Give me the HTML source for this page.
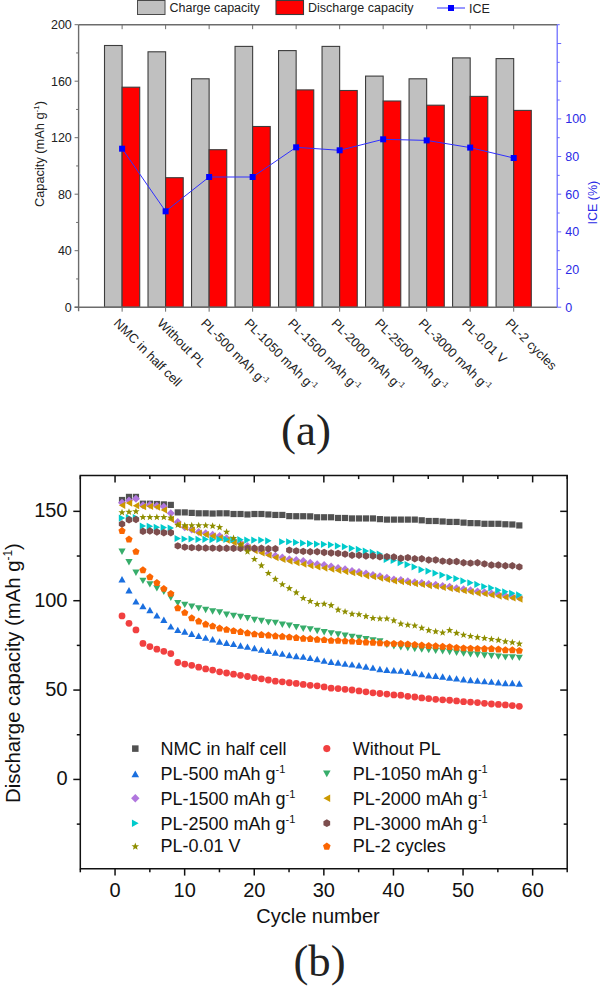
<!DOCTYPE html>
<html><head><meta charset="utf-8"><style>html,body{margin:0;padding:0;background:#fff;width:600px;height:986px;overflow:hidden}svg{display:block}</style></head>
<body><svg width="600" height="986" viewBox="0 0 600 986" font-family='"Liberation Sans", sans-serif'><rect x="104.51" y="45.50" width="17.60" height="261.70" fill="#c0c0c0" stroke="#3c3c3c" stroke-width="1.1"/>
<rect x="122.11" y="87.20" width="17.60" height="220.00" fill="#ff0000" stroke="#3c3c3c" stroke-width="1.1"/>
<rect x="148.02" y="51.80" width="17.60" height="255.40" fill="#c0c0c0" stroke="#3c3c3c" stroke-width="1.1"/>
<rect x="165.62" y="177.70" width="17.60" height="129.50" fill="#ff0000" stroke="#3c3c3c" stroke-width="1.1"/>
<rect x="191.53" y="78.80" width="17.60" height="228.40" fill="#c0c0c0" stroke="#3c3c3c" stroke-width="1.1"/>
<rect x="209.13" y="149.70" width="17.60" height="157.50" fill="#ff0000" stroke="#3c3c3c" stroke-width="1.1"/>
<rect x="235.04" y="46.40" width="17.60" height="260.80" fill="#c0c0c0" stroke="#3c3c3c" stroke-width="1.1"/>
<rect x="252.64" y="126.50" width="17.60" height="180.70" fill="#ff0000" stroke="#3c3c3c" stroke-width="1.1"/>
<rect x="278.55" y="50.60" width="17.60" height="256.60" fill="#c0c0c0" stroke="#3c3c3c" stroke-width="1.1"/>
<rect x="296.15" y="89.90" width="17.60" height="217.30" fill="#ff0000" stroke="#3c3c3c" stroke-width="1.1"/>
<rect x="322.05" y="46.40" width="17.60" height="260.80" fill="#c0c0c0" stroke="#3c3c3c" stroke-width="1.1"/>
<rect x="339.65" y="90.50" width="17.60" height="216.70" fill="#ff0000" stroke="#3c3c3c" stroke-width="1.1"/>
<rect x="365.56" y="76.10" width="17.60" height="231.10" fill="#c0c0c0" stroke="#3c3c3c" stroke-width="1.1"/>
<rect x="383.16" y="101.00" width="17.60" height="206.20" fill="#ff0000" stroke="#3c3c3c" stroke-width="1.1"/>
<rect x="409.07" y="78.80" width="17.60" height="228.40" fill="#c0c0c0" stroke="#3c3c3c" stroke-width="1.1"/>
<rect x="426.67" y="105.20" width="17.60" height="202.00" fill="#ff0000" stroke="#3c3c3c" stroke-width="1.1"/>
<rect x="452.58" y="57.90" width="17.60" height="249.30" fill="#c0c0c0" stroke="#3c3c3c" stroke-width="1.1"/>
<rect x="470.18" y="96.40" width="17.60" height="210.80" fill="#ff0000" stroke="#3c3c3c" stroke-width="1.1"/>
<rect x="496.09" y="58.60" width="17.60" height="248.60" fill="#c0c0c0" stroke="#3c3c3c" stroke-width="1.1"/>
<rect x="513.69" y="110.40" width="17.60" height="196.80" fill="#ff0000" stroke="#3c3c3c" stroke-width="1.1"/>
<path d="M78.6,24.7 H557.2 M78.6,24.7 V311.2 M74.6,307.2 H557.2" stroke="#6c6c6c" stroke-width="1.4" fill="none"/>
<line x1="74.6" y1="307.20" x2="78.6" y2="307.20" stroke="#6c6c6c" stroke-width="1"/>
<text x="71.8" y="311.70" font-size="12.5" text-anchor="end" fill="#222">0</text>
<line x1="76.1" y1="278.95" x2="78.6" y2="278.95" stroke="#6c6c6c" stroke-width="1"/>
<line x1="74.6" y1="250.70" x2="78.6" y2="250.70" stroke="#6c6c6c" stroke-width="1"/>
<text x="71.8" y="255.20" font-size="12.5" text-anchor="end" fill="#222">40</text>
<line x1="76.1" y1="222.45" x2="78.6" y2="222.45" stroke="#6c6c6c" stroke-width="1"/>
<line x1="74.6" y1="194.20" x2="78.6" y2="194.20" stroke="#6c6c6c" stroke-width="1"/>
<text x="71.8" y="198.70" font-size="12.5" text-anchor="end" fill="#222">80</text>
<line x1="76.1" y1="165.95" x2="78.6" y2="165.95" stroke="#6c6c6c" stroke-width="1"/>
<line x1="74.6" y1="137.70" x2="78.6" y2="137.70" stroke="#6c6c6c" stroke-width="1"/>
<text x="71.8" y="142.20" font-size="12.5" text-anchor="end" fill="#222">120</text>
<line x1="76.1" y1="109.45" x2="78.6" y2="109.45" stroke="#6c6c6c" stroke-width="1"/>
<line x1="74.6" y1="81.20" x2="78.6" y2="81.20" stroke="#6c6c6c" stroke-width="1"/>
<text x="71.8" y="85.70" font-size="12.5" text-anchor="end" fill="#222">160</text>
<line x1="76.1" y1="52.95" x2="78.6" y2="52.95" stroke="#6c6c6c" stroke-width="1"/>
<line x1="74.6" y1="24.70" x2="78.6" y2="24.70" stroke="#6c6c6c" stroke-width="1"/>
<text x="71.8" y="29.20" font-size="12.5" text-anchor="end" fill="#222">200</text>
<line x1="122.11" y1="24.7" x2="122.11" y2="29.2" stroke="#6c6c6c" stroke-width="1"/>
<line x1="122.11" y1="307.2" x2="122.11" y2="311.7" stroke="#6c6c6c" stroke-width="1"/>
<line x1="165.62" y1="24.7" x2="165.62" y2="29.2" stroke="#6c6c6c" stroke-width="1"/>
<line x1="165.62" y1="307.2" x2="165.62" y2="311.7" stroke="#6c6c6c" stroke-width="1"/>
<line x1="209.13" y1="24.7" x2="209.13" y2="29.2" stroke="#6c6c6c" stroke-width="1"/>
<line x1="209.13" y1="307.2" x2="209.13" y2="311.7" stroke="#6c6c6c" stroke-width="1"/>
<line x1="252.64" y1="24.7" x2="252.64" y2="29.2" stroke="#6c6c6c" stroke-width="1"/>
<line x1="252.64" y1="307.2" x2="252.64" y2="311.7" stroke="#6c6c6c" stroke-width="1"/>
<line x1="296.15" y1="24.7" x2="296.15" y2="29.2" stroke="#6c6c6c" stroke-width="1"/>
<line x1="296.15" y1="307.2" x2="296.15" y2="311.7" stroke="#6c6c6c" stroke-width="1"/>
<line x1="339.65" y1="24.7" x2="339.65" y2="29.2" stroke="#6c6c6c" stroke-width="1"/>
<line x1="339.65" y1="307.2" x2="339.65" y2="311.7" stroke="#6c6c6c" stroke-width="1"/>
<line x1="383.16" y1="24.7" x2="383.16" y2="29.2" stroke="#6c6c6c" stroke-width="1"/>
<line x1="383.16" y1="307.2" x2="383.16" y2="311.7" stroke="#6c6c6c" stroke-width="1"/>
<line x1="426.67" y1="24.7" x2="426.67" y2="29.2" stroke="#6c6c6c" stroke-width="1"/>
<line x1="426.67" y1="307.2" x2="426.67" y2="311.7" stroke="#6c6c6c" stroke-width="1"/>
<line x1="470.18" y1="24.7" x2="470.18" y2="29.2" stroke="#6c6c6c" stroke-width="1"/>
<line x1="470.18" y1="307.2" x2="470.18" y2="311.7" stroke="#6c6c6c" stroke-width="1"/>
<line x1="513.69" y1="24.7" x2="513.69" y2="29.2" stroke="#6c6c6c" stroke-width="1"/>
<line x1="513.69" y1="307.2" x2="513.69" y2="311.7" stroke="#6c6c6c" stroke-width="1"/>
<line x1="557.2" y1="24.7" x2="557.2" y2="307.2" stroke="#6464ff" stroke-width="1.2"/>
<line x1="557.2" y1="307.20" x2="561.2" y2="307.20" stroke="#6464ff" stroke-width="1"/>
<text x="565.2" y="311.70" font-size="12.5" fill="#2a2ae6">0</text>
<line x1="557.2" y1="288.37" x2="559.7" y2="288.37" stroke="#6464ff" stroke-width="1"/>
<line x1="557.2" y1="269.53" x2="561.2" y2="269.53" stroke="#6464ff" stroke-width="1"/>
<text x="565.2" y="274.03" font-size="12.5" fill="#2a2ae6">20</text>
<line x1="557.2" y1="250.70" x2="559.7" y2="250.70" stroke="#6464ff" stroke-width="1"/>
<line x1="557.2" y1="231.87" x2="561.2" y2="231.87" stroke="#6464ff" stroke-width="1"/>
<text x="565.2" y="236.37" font-size="12.5" fill="#2a2ae6">40</text>
<line x1="557.2" y1="213.03" x2="559.7" y2="213.03" stroke="#6464ff" stroke-width="1"/>
<line x1="557.2" y1="194.20" x2="561.2" y2="194.20" stroke="#6464ff" stroke-width="1"/>
<text x="565.2" y="198.70" font-size="12.5" fill="#2a2ae6">60</text>
<line x1="557.2" y1="175.37" x2="559.7" y2="175.37" stroke="#6464ff" stroke-width="1"/>
<line x1="557.2" y1="156.53" x2="561.2" y2="156.53" stroke="#6464ff" stroke-width="1"/>
<text x="565.2" y="161.03" font-size="12.5" fill="#2a2ae6">80</text>
<line x1="557.2" y1="137.70" x2="559.7" y2="137.70" stroke="#6464ff" stroke-width="1"/>
<line x1="557.2" y1="118.87" x2="561.2" y2="118.87" stroke="#6464ff" stroke-width="1"/>
<text x="565.2" y="123.37" font-size="12.5" fill="#2a2ae6">100</text>
<line x1="557.2" y1="100.03" x2="559.7" y2="100.03" stroke="#6464ff" stroke-width="1"/>
<line x1="557.2" y1="81.20" x2="561.2" y2="81.20" stroke="#6464ff" stroke-width="1"/>
<line x1="557.2" y1="62.37" x2="559.7" y2="62.37" stroke="#6464ff" stroke-width="1"/>
<line x1="557.2" y1="43.53" x2="561.2" y2="43.53" stroke="#6464ff" stroke-width="1"/>
<line x1="557.2" y1="24.70" x2="559.7" y2="24.70" stroke="#6464ff" stroke-width="1"/>
<polyline points="122.11,148.7 165.62,211.3 209.13,177 252.64,177 296.15,147.3 339.65,150.3 383.16,139.3 426.67,140.4 470.18,147.6 513.69,158" fill="none" stroke="#3030ff" stroke-width="1"/>
<rect x="119.11" y="145.7" width="6" height="6" fill="#0000ff"/>
<rect x="162.62" y="208.3" width="6" height="6" fill="#0000ff"/>
<rect x="206.13" y="174" width="6" height="6" fill="#0000ff"/>
<rect x="249.64" y="174" width="6" height="6" fill="#0000ff"/>
<rect x="293.15" y="144.3" width="6" height="6" fill="#0000ff"/>
<rect x="336.65" y="147.3" width="6" height="6" fill="#0000ff"/>
<rect x="380.16" y="136.3" width="6" height="6" fill="#0000ff"/>
<rect x="423.67" y="137.4" width="6" height="6" fill="#0000ff"/>
<rect x="467.18" y="144.6" width="6" height="6" fill="#0000ff"/>
<rect x="510.69" y="155" width="6" height="6" fill="#0000ff"/>
<rect x="137.5" y="0.5" width="27.5" height="14" fill="#c0c0c0" stroke="#4a4a4a" stroke-width="1"/>
<text x="169.5" y="12" font-size="12.5" fill="#222">Charge capacity</text>
<rect x="276" y="0.5" width="27.5" height="14" fill="#ff0000" stroke="#3c3c3c" stroke-width="1.1"/>
<text x="308" y="12" font-size="12.5" fill="#222">Discharge capacity</text>
<line x1="437" y1="8" x2="465" y2="8" stroke="#3030ff" stroke-width="1"/>
<rect x="448" y="5" width="6" height="6" fill="#0000ff"/>
<text x="469" y="12.5" font-size="12.5" fill="#222">ICE</text>
<text transform="translate(44.2,154) rotate(-90)" font-size="12.8" text-anchor="middle" fill="#222">Capacity (mAh g<tspan font-size="8" dy="-5">-1</tspan><tspan dy="5">)</tspan></text>
<text transform="translate(597,202.7) rotate(-90)" font-size="12.5" text-anchor="middle" fill="#2a2ae6">ICE (%)</text>
<text transform="translate(113.11,324) rotate(45)" font-size="12.8" fill="#222">NMC in half cell</text>
<text transform="translate(156.62,324) rotate(45)" font-size="12.8" fill="#222">Without PL</text>
<text transform="translate(200.13,324) rotate(45)" font-size="12.8" fill="#222">PL-500 mAh g<tspan font-size="8" dy="-5">-1</tspan></text>
<text transform="translate(243.64,324) rotate(45)" font-size="12.8" fill="#222">PL-1050 mAh g<tspan font-size="8" dy="-5">-1</tspan></text>
<text transform="translate(287.15,324) rotate(45)" font-size="12.8" fill="#222">PL-1500 mAh g<tspan font-size="8" dy="-5">-1</tspan></text>
<text transform="translate(330.65,324) rotate(45)" font-size="12.8" fill="#222">PL-2000 mAh g<tspan font-size="8" dy="-5">-1</tspan></text>
<text transform="translate(374.16,324) rotate(45)" font-size="12.8" fill="#222">PL-2500 mAh g<tspan font-size="8" dy="-5">-1</tspan></text>
<text transform="translate(417.67,324) rotate(45)" font-size="12.8" fill="#222">PL-3000 mAh g<tspan font-size="8" dy="-5">-1</tspan></text>
<text transform="translate(461.18,324) rotate(45)" font-size="12.8" fill="#222">PL-0.01 V</text>
<text transform="translate(504.69,324) rotate(45)" font-size="12.8" fill="#222">PL-2 cycles</text>
<text x="306" y="444.7" font-size="45" font-family='"Liberation Serif", serif' text-anchor="middle" fill="#222">(a)</text>
<path d="M80.3,475.6 H567.2 V868.8 H80.3 Z" stroke="#111" stroke-width="1.5" fill="none"/>
<line x1="80.30" y1="868.8" x2="80.30" y2="872.3" stroke="#111" stroke-width="1.5"/>
<line x1="80.30" y1="475.6" x2="80.30" y2="479.1" stroke="#111" stroke-width="1.5"/>
<line x1="115.05" y1="868.8" x2="115.05" y2="875.5999999999999" stroke="#111" stroke-width="1.5"/>
<line x1="115.05" y1="475.6" x2="115.05" y2="482.40000000000003" stroke="#111" stroke-width="1.5"/>
<text x="115.05" y="897.3" font-size="20" text-anchor="middle" fill="#111">0</text>
<line x1="149.85" y1="868.8" x2="149.85" y2="872.3" stroke="#111" stroke-width="1.5"/>
<line x1="149.85" y1="475.6" x2="149.85" y2="479.1" stroke="#111" stroke-width="1.5"/>
<line x1="184.65" y1="868.8" x2="184.65" y2="875.5999999999999" stroke="#111" stroke-width="1.5"/>
<line x1="184.65" y1="475.6" x2="184.65" y2="482.40000000000003" stroke="#111" stroke-width="1.5"/>
<text x="184.65" y="897.3" font-size="20" text-anchor="middle" fill="#111">10</text>
<line x1="219.45" y1="868.8" x2="219.45" y2="872.3" stroke="#111" stroke-width="1.5"/>
<line x1="219.45" y1="475.6" x2="219.45" y2="479.1" stroke="#111" stroke-width="1.5"/>
<line x1="254.25" y1="868.8" x2="254.25" y2="875.5999999999999" stroke="#111" stroke-width="1.5"/>
<line x1="254.25" y1="475.6" x2="254.25" y2="482.40000000000003" stroke="#111" stroke-width="1.5"/>
<text x="254.25" y="897.3" font-size="20" text-anchor="middle" fill="#111">20</text>
<line x1="289.05" y1="868.8" x2="289.05" y2="872.3" stroke="#111" stroke-width="1.5"/>
<line x1="289.05" y1="475.6" x2="289.05" y2="479.1" stroke="#111" stroke-width="1.5"/>
<line x1="323.85" y1="868.8" x2="323.85" y2="875.5999999999999" stroke="#111" stroke-width="1.5"/>
<line x1="323.85" y1="475.6" x2="323.85" y2="482.40000000000003" stroke="#111" stroke-width="1.5"/>
<text x="323.85" y="897.3" font-size="20" text-anchor="middle" fill="#111">30</text>
<line x1="358.65" y1="868.8" x2="358.65" y2="872.3" stroke="#111" stroke-width="1.5"/>
<line x1="358.65" y1="475.6" x2="358.65" y2="479.1" stroke="#111" stroke-width="1.5"/>
<line x1="393.45" y1="868.8" x2="393.45" y2="875.5999999999999" stroke="#111" stroke-width="1.5"/>
<line x1="393.45" y1="475.6" x2="393.45" y2="482.40000000000003" stroke="#111" stroke-width="1.5"/>
<text x="393.45" y="897.3" font-size="20" text-anchor="middle" fill="#111">40</text>
<line x1="428.25" y1="868.8" x2="428.25" y2="872.3" stroke="#111" stroke-width="1.5"/>
<line x1="428.25" y1="475.6" x2="428.25" y2="479.1" stroke="#111" stroke-width="1.5"/>
<line x1="463.05" y1="868.8" x2="463.05" y2="875.5999999999999" stroke="#111" stroke-width="1.5"/>
<line x1="463.05" y1="475.6" x2="463.05" y2="482.40000000000003" stroke="#111" stroke-width="1.5"/>
<text x="463.05" y="897.3" font-size="20" text-anchor="middle" fill="#111">50</text>
<line x1="497.85" y1="868.8" x2="497.85" y2="872.3" stroke="#111" stroke-width="1.5"/>
<line x1="497.85" y1="475.6" x2="497.85" y2="479.1" stroke="#111" stroke-width="1.5"/>
<line x1="532.65" y1="868.8" x2="532.65" y2="875.5999999999999" stroke="#111" stroke-width="1.5"/>
<line x1="532.65" y1="475.6" x2="532.65" y2="482.40000000000003" stroke="#111" stroke-width="1.5"/>
<text x="532.65" y="897.3" font-size="20" text-anchor="middle" fill="#111">60</text>
<line x1="567.20" y1="868.8" x2="567.20" y2="872.3" stroke="#111" stroke-width="1.5"/>
<line x1="567.20" y1="475.6" x2="567.20" y2="479.1" stroke="#111" stroke-width="1.5"/>
<line x1="76.8" y1="824.12" x2="80.3" y2="824.12" stroke="#111" stroke-width="1.5"/>
<line x1="567.2" y1="824.12" x2="563.7" y2="824.12" stroke="#111" stroke-width="1.5"/>
<line x1="73.3" y1="779.44" x2="80.3" y2="779.44" stroke="#111" stroke-width="1.5"/>
<line x1="567.2" y1="779.44" x2="560.2" y2="779.44" stroke="#111" stroke-width="1.5"/>
<text x="67.5" y="785.34" font-size="20" text-anchor="end" fill="#111">0</text>
<line x1="76.8" y1="734.75" x2="80.3" y2="734.75" stroke="#111" stroke-width="1.5"/>
<line x1="567.2" y1="734.75" x2="563.7" y2="734.75" stroke="#111" stroke-width="1.5"/>
<line x1="73.3" y1="690.07" x2="80.3" y2="690.07" stroke="#111" stroke-width="1.5"/>
<line x1="567.2" y1="690.07" x2="560.2" y2="690.07" stroke="#111" stroke-width="1.5"/>
<text x="67.5" y="695.97" font-size="20" text-anchor="end" fill="#111">50</text>
<line x1="76.8" y1="645.39" x2="80.3" y2="645.39" stroke="#111" stroke-width="1.5"/>
<line x1="567.2" y1="645.39" x2="563.7" y2="645.39" stroke="#111" stroke-width="1.5"/>
<line x1="73.3" y1="600.71" x2="80.3" y2="600.71" stroke="#111" stroke-width="1.5"/>
<line x1="567.2" y1="600.71" x2="560.2" y2="600.71" stroke="#111" stroke-width="1.5"/>
<text x="67.5" y="606.61" font-size="20" text-anchor="end" fill="#111">100</text>
<line x1="76.8" y1="556.03" x2="80.3" y2="556.03" stroke="#111" stroke-width="1.5"/>
<line x1="567.2" y1="556.03" x2="563.7" y2="556.03" stroke="#111" stroke-width="1.5"/>
<line x1="73.3" y1="511.35" x2="80.3" y2="511.35" stroke="#111" stroke-width="1.5"/>
<line x1="567.2" y1="511.35" x2="560.2" y2="511.35" stroke="#111" stroke-width="1.5"/>
<text x="67.5" y="517.25" font-size="20" text-anchor="end" fill="#111">150</text>
<text x="318" y="923.3" font-size="20" text-anchor="middle" fill="#111">Cycle number</text>
<text transform="translate(20.0,673) rotate(-90)" font-size="20.3" text-anchor="middle" fill="#111">Discharge capacity (mAh g<tspan font-size="12" dy="-8">-1</tspan><tspan dy="8">)</tspan></text>
<text x="319.5" y="976.3" font-size="44.7" font-family='"Liberation Serif", serif' text-anchor="middle" fill="#222">(b)</text>
<rect x="118.92" y="496.90" width="6.20" height="6.20" fill="#515151"/>
<rect x="125.89" y="493.80" width="6.20" height="6.20" fill="#515151"/>
<rect x="132.86" y="493.80" width="6.20" height="6.20" fill="#515151"/>
<rect x="139.83" y="500.60" width="6.20" height="6.20" fill="#515151"/>
<rect x="146.80" y="500.60" width="6.20" height="6.20" fill="#515151"/>
<rect x="153.77" y="500.90" width="6.20" height="6.20" fill="#515151"/>
<rect x="160.74" y="501.30" width="6.20" height="6.20" fill="#515151"/>
<rect x="167.71" y="501.80" width="6.20" height="6.20" fill="#515151"/>
<rect x="174.68" y="509.30" width="6.20" height="6.20" fill="#515151"/>
<rect x="181.65" y="509.30" width="6.20" height="6.20" fill="#515151"/>
<rect x="188.62" y="509.80" width="6.20" height="6.20" fill="#515151"/>
<rect x="195.59" y="510.20" width="6.20" height="6.20" fill="#515151"/>
<rect x="202.56" y="510.21" width="6.20" height="6.20" fill="#515151"/>
<rect x="209.53" y="510.46" width="6.20" height="6.20" fill="#515151"/>
<rect x="216.50" y="510.21" width="6.20" height="6.20" fill="#515151"/>
<rect x="223.47" y="510.21" width="6.20" height="6.20" fill="#515151"/>
<rect x="230.44" y="510.91" width="6.20" height="6.20" fill="#515151"/>
<rect x="237.41" y="510.91" width="6.20" height="6.20" fill="#515151"/>
<rect x="244.38" y="511.38" width="6.20" height="6.20" fill="#515151"/>
<rect x="251.35" y="510.91" width="6.20" height="6.20" fill="#515151"/>
<rect x="258.32" y="510.91" width="6.20" height="6.20" fill="#515151"/>
<rect x="265.29" y="511.38" width="6.20" height="6.20" fill="#515151"/>
<rect x="272.26" y="511.84" width="6.20" height="6.20" fill="#515151"/>
<rect x="279.23" y="511.84" width="6.20" height="6.20" fill="#515151"/>
<rect x="286.20" y="513.01" width="6.20" height="6.20" fill="#515151"/>
<rect x="293.17" y="513.12" width="6.20" height="6.20" fill="#515151"/>
<rect x="300.14" y="513.12" width="6.20" height="6.20" fill="#515151"/>
<rect x="307.11" y="513.24" width="6.20" height="6.20" fill="#515151"/>
<rect x="314.08" y="514.17" width="6.20" height="6.20" fill="#515151"/>
<rect x="321.05" y="514.17" width="6.20" height="6.20" fill="#515151"/>
<rect x="328.02" y="514.17" width="6.20" height="6.20" fill="#515151"/>
<rect x="334.99" y="514.87" width="6.20" height="6.20" fill="#515151"/>
<rect x="341.96" y="514.87" width="6.20" height="6.20" fill="#515151"/>
<rect x="348.93" y="515.34" width="6.20" height="6.20" fill="#515151"/>
<rect x="355.90" y="515.34" width="6.20" height="6.20" fill="#515151"/>
<rect x="362.87" y="515.34" width="6.20" height="6.20" fill="#515151"/>
<rect x="369.84" y="515.34" width="6.20" height="6.20" fill="#515151"/>
<rect x="376.81" y="516.04" width="6.20" height="6.20" fill="#515151"/>
<rect x="383.78" y="516.50" width="6.20" height="6.20" fill="#515151"/>
<rect x="390.75" y="516.50" width="6.20" height="6.20" fill="#515151"/>
<rect x="397.72" y="516.50" width="6.20" height="6.20" fill="#515151"/>
<rect x="404.69" y="516.50" width="6.20" height="6.20" fill="#515151"/>
<rect x="411.66" y="516.50" width="6.20" height="6.20" fill="#515151"/>
<rect x="418.63" y="517.20" width="6.20" height="6.20" fill="#515151"/>
<rect x="425.60" y="517.90" width="6.20" height="6.20" fill="#515151"/>
<rect x="432.57" y="517.90" width="6.20" height="6.20" fill="#515151"/>
<rect x="439.54" y="518.37" width="6.20" height="6.20" fill="#515151"/>
<rect x="446.51" y="518.83" width="6.20" height="6.20" fill="#515151"/>
<rect x="453.48" y="518.83" width="6.20" height="6.20" fill="#515151"/>
<rect x="460.45" y="519.53" width="6.20" height="6.20" fill="#515151"/>
<rect x="467.42" y="520.00" width="6.20" height="6.20" fill="#515151"/>
<rect x="474.39" y="520.12" width="6.20" height="6.20" fill="#515151"/>
<rect x="481.36" y="520.70" width="6.20" height="6.20" fill="#515151"/>
<rect x="488.33" y="520.70" width="6.20" height="6.20" fill="#515151"/>
<rect x="495.30" y="520.70" width="6.20" height="6.20" fill="#515151"/>
<rect x="502.27" y="521.17" width="6.20" height="6.20" fill="#515151"/>
<rect x="509.24" y="521.40" width="6.20" height="6.20" fill="#515151"/>
<rect x="516.21" y="522.33" width="6.20" height="6.20" fill="#515151"/>
<circle cx="122.02" cy="615.90" r="3.40" fill="#f14040"/>
<circle cx="128.99" cy="623.30" r="3.40" fill="#f14040"/>
<circle cx="135.96" cy="629.90" r="3.40" fill="#f14040"/>
<circle cx="142.93" cy="643.40" r="3.40" fill="#f14040"/>
<circle cx="149.90" cy="646.60" r="3.40" fill="#f14040"/>
<circle cx="156.87" cy="649.20" r="3.40" fill="#f14040"/>
<circle cx="163.84" cy="651.30" r="3.40" fill="#f14040"/>
<circle cx="170.81" cy="653.60" r="3.40" fill="#f14040"/>
<circle cx="177.78" cy="662.50" r="3.40" fill="#f14040"/>
<circle cx="184.75" cy="664.10" r="3.40" fill="#f14040"/>
<circle cx="191.72" cy="665.30" r="3.40" fill="#f14040"/>
<circle cx="198.69" cy="667.20" r="3.40" fill="#f14040"/>
<circle cx="205.66" cy="668.91" r="3.40" fill="#f14040"/>
<circle cx="212.63" cy="670.08" r="3.40" fill="#f14040"/>
<circle cx="219.60" cy="671.82" r="3.40" fill="#f14040"/>
<circle cx="226.57" cy="672.98" r="3.40" fill="#f14040"/>
<circle cx="233.54" cy="674.15" r="3.40" fill="#f14040"/>
<circle cx="240.51" cy="675.31" r="3.40" fill="#f14040"/>
<circle cx="247.48" cy="676.48" r="3.40" fill="#f14040"/>
<circle cx="254.45" cy="677.65" r="3.40" fill="#f14040"/>
<circle cx="261.42" cy="678.81" r="3.40" fill="#f14040"/>
<circle cx="268.39" cy="679.98" r="3.40" fill="#f14040"/>
<circle cx="275.36" cy="681.14" r="3.40" fill="#f14040"/>
<circle cx="282.33" cy="681.84" r="3.40" fill="#f14040"/>
<circle cx="289.30" cy="682.77" r="3.40" fill="#f14040"/>
<circle cx="296.27" cy="683.47" r="3.40" fill="#f14040"/>
<circle cx="303.24" cy="684.41" r="3.40" fill="#f14040"/>
<circle cx="310.21" cy="685.34" r="3.40" fill="#f14040"/>
<circle cx="317.18" cy="685.80" r="3.40" fill="#f14040"/>
<circle cx="324.15" cy="686.97" r="3.40" fill="#f14040"/>
<circle cx="331.12" cy="688.14" r="3.40" fill="#f14040"/>
<circle cx="338.09" cy="688.60" r="3.40" fill="#f14040"/>
<circle cx="345.06" cy="689.30" r="3.40" fill="#f14040"/>
<circle cx="352.03" cy="690.00" r="3.40" fill="#f14040"/>
<circle cx="359.00" cy="690.93" r="3.40" fill="#f14040"/>
<circle cx="365.97" cy="691.86" r="3.40" fill="#f14040"/>
<circle cx="372.94" cy="692.80" r="3.40" fill="#f14040"/>
<circle cx="379.91" cy="693.50" r="3.40" fill="#f14040"/>
<circle cx="386.88" cy="694.08" r="3.40" fill="#f14040"/>
<circle cx="393.85" cy="694.90" r="3.40" fill="#f14040"/>
<circle cx="400.82" cy="695.13" r="3.40" fill="#f14040"/>
<circle cx="407.79" cy="696.29" r="3.40" fill="#f14040"/>
<circle cx="414.76" cy="696.99" r="3.40" fill="#f14040"/>
<circle cx="421.73" cy="697.93" r="3.40" fill="#f14040"/>
<circle cx="428.70" cy="698.62" r="3.40" fill="#f14040"/>
<circle cx="435.67" cy="699.32" r="3.40" fill="#f14040"/>
<circle cx="442.64" cy="699.79" r="3.40" fill="#f14040"/>
<circle cx="449.61" cy="700.26" r="3.40" fill="#f14040"/>
<circle cx="456.58" cy="700.96" r="3.40" fill="#f14040"/>
<circle cx="463.55" cy="701.66" r="3.40" fill="#f14040"/>
<circle cx="470.52" cy="702.12" r="3.40" fill="#f14040"/>
<circle cx="477.49" cy="702.59" r="3.40" fill="#f14040"/>
<circle cx="484.46" cy="703.29" r="3.40" fill="#f14040"/>
<circle cx="491.43" cy="703.99" r="3.40" fill="#f14040"/>
<circle cx="498.40" cy="704.45" r="3.40" fill="#f14040"/>
<circle cx="505.37" cy="704.92" r="3.40" fill="#f14040"/>
<circle cx="512.34" cy="705.62" r="3.40" fill="#f14040"/>
<circle cx="519.31" cy="706.32" r="3.40" fill="#f14040"/>
<path d="M122.02,576.10 L125.62,582.50 L118.42,582.50 Z" fill="#1a6fdf"/>
<path d="M128.99,587.00 L132.59,593.40 L125.39,593.40 Z" fill="#1a6fdf"/>
<path d="M135.96,598.20 L139.56,604.60 L132.36,604.60 Z" fill="#1a6fdf"/>
<path d="M142.93,602.90 L146.53,609.30 L139.33,609.30 Z" fill="#1a6fdf"/>
<path d="M149.90,606.80 L153.50,613.20 L146.30,613.20 Z" fill="#1a6fdf"/>
<path d="M156.87,612.20 L160.47,618.60 L153.27,618.60 Z" fill="#1a6fdf"/>
<path d="M163.84,616.60 L167.44,623.00 L160.24,623.00 Z" fill="#1a6fdf"/>
<path d="M170.81,623.20 L174.41,629.60 L167.21,629.60 Z" fill="#1a6fdf"/>
<path d="M177.78,626.70 L181.38,633.10 L174.18,633.10 Z" fill="#1a6fdf"/>
<path d="M184.75,628.30 L188.35,634.70 L181.15,634.70 Z" fill="#1a6fdf"/>
<path d="M191.72,630.60 L195.32,637.00 L188.12,637.00 Z" fill="#1a6fdf"/>
<path d="M198.69,632.50 L202.29,638.90 L195.09,638.90 Z" fill="#1a6fdf"/>
<path d="M205.66,634.46 L209.26,640.86 L202.06,640.86 Z" fill="#1a6fdf"/>
<path d="M212.63,635.99 L216.23,642.39 L209.03,642.39 Z" fill="#1a6fdf"/>
<path d="M219.60,638.32 L223.20,644.72 L216.00,644.72 Z" fill="#1a6fdf"/>
<path d="M226.57,639.48 L230.17,645.88 L222.97,645.88 Z" fill="#1a6fdf"/>
<path d="M233.54,640.65 L237.14,647.05 L229.94,647.05 Z" fill="#1a6fdf"/>
<path d="M240.51,642.28 L244.11,648.68 L236.91,648.68 Z" fill="#1a6fdf"/>
<path d="M247.48,643.44 L251.08,649.84 L243.88,649.84 Z" fill="#1a6fdf"/>
<path d="M254.45,644.84 L258.05,651.24 L250.85,651.24 Z" fill="#1a6fdf"/>
<path d="M261.42,646.47 L265.02,652.87 L257.82,652.87 Z" fill="#1a6fdf"/>
<path d="M268.39,647.64 L271.99,654.04 L264.79,654.04 Z" fill="#1a6fdf"/>
<path d="M275.36,649.27 L278.96,655.67 L271.76,655.67 Z" fill="#1a6fdf"/>
<path d="M282.33,650.44 L285.93,656.84 L278.73,656.84 Z" fill="#1a6fdf"/>
<path d="M289.30,651.83 L292.90,658.23 L285.70,658.23 Z" fill="#1a6fdf"/>
<path d="M296.27,652.77 L299.87,659.17 L292.67,659.17 Z" fill="#1a6fdf"/>
<path d="M303.24,653.47 L306.84,659.87 L299.64,659.87 Z" fill="#1a6fdf"/>
<path d="M310.21,654.63 L313.81,661.03 L306.61,661.03 Z" fill="#1a6fdf"/>
<path d="M317.18,655.80 L320.78,662.20 L313.58,662.20 Z" fill="#1a6fdf"/>
<path d="M324.15,657.43 L327.75,663.83 L320.55,663.83 Z" fill="#1a6fdf"/>
<path d="M331.12,658.59 L334.72,664.99 L327.52,664.99 Z" fill="#1a6fdf"/>
<path d="M338.09,659.29 L341.69,665.69 L334.49,665.69 Z" fill="#1a6fdf"/>
<path d="M345.06,660.46 L348.66,666.86 L341.46,666.86 Z" fill="#1a6fdf"/>
<path d="M352.03,661.16 L355.63,667.56 L348.43,667.56 Z" fill="#1a6fdf"/>
<path d="M359.00,662.09 L362.60,668.49 L355.40,668.49 Z" fill="#1a6fdf"/>
<path d="M365.97,663.26 L369.57,669.66 L362.37,669.66 Z" fill="#1a6fdf"/>
<path d="M372.94,664.42 L376.54,670.82 L369.34,670.82 Z" fill="#1a6fdf"/>
<path d="M379.91,665.82 L383.51,672.22 L376.31,672.22 Z" fill="#1a6fdf"/>
<path d="M386.88,666.52 L390.48,672.92 L383.28,672.92 Z" fill="#1a6fdf"/>
<path d="M393.85,667.10 L397.45,673.50 L390.25,673.50 Z" fill="#1a6fdf"/>
<path d="M400.82,667.45 L404.42,673.85 L397.22,673.85 Z" fill="#1a6fdf"/>
<path d="M407.79,668.62 L411.39,675.02 L404.19,675.02 Z" fill="#1a6fdf"/>
<path d="M414.76,669.78 L418.36,676.18 L411.16,676.18 Z" fill="#1a6fdf"/>
<path d="M421.73,670.95 L425.33,677.35 L418.13,677.35 Z" fill="#1a6fdf"/>
<path d="M428.70,672.11 L432.30,678.51 L425.10,678.51 Z" fill="#1a6fdf"/>
<path d="M435.67,672.58 L439.27,678.98 L432.07,678.98 Z" fill="#1a6fdf"/>
<path d="M442.64,673.28 L446.24,679.68 L439.04,679.68 Z" fill="#1a6fdf"/>
<path d="M449.61,674.45 L453.21,680.85 L446.01,680.85 Z" fill="#1a6fdf"/>
<path d="M456.58,675.14 L460.18,681.54 L452.98,681.54 Z" fill="#1a6fdf"/>
<path d="M463.55,676.08 L467.15,682.48 L459.95,682.48 Z" fill="#1a6fdf"/>
<path d="M470.52,676.78 L474.12,683.18 L466.92,683.18 Z" fill="#1a6fdf"/>
<path d="M477.49,677.36 L481.09,683.76 L473.89,683.76 Z" fill="#1a6fdf"/>
<path d="M484.46,677.94 L488.06,684.34 L480.86,684.34 Z" fill="#1a6fdf"/>
<path d="M491.43,678.41 L495.03,684.81 L487.83,684.81 Z" fill="#1a6fdf"/>
<path d="M498.40,679.11 L502.00,685.51 L494.80,685.51 Z" fill="#1a6fdf"/>
<path d="M505.37,679.81 L508.97,686.21 L501.77,686.21 Z" fill="#1a6fdf"/>
<path d="M512.34,679.81 L515.94,686.21 L508.74,686.21 Z" fill="#1a6fdf"/>
<path d="M519.31,680.27 L522.91,686.67 L515.71,686.67 Z" fill="#1a6fdf"/>
<path d="M122.02,555.00 L125.62,548.60 L118.42,548.60 Z" fill="#37ad6b"/>
<path d="M128.99,565.50 L132.59,559.10 L125.39,559.10 Z" fill="#37ad6b"/>
<path d="M135.96,576.00 L139.56,569.60 L132.36,569.60 Z" fill="#37ad6b"/>
<path d="M142.93,584.10 L146.53,577.70 L139.33,577.70 Z" fill="#37ad6b"/>
<path d="M149.90,587.60 L153.50,581.20 L146.30,581.20 Z" fill="#37ad6b"/>
<path d="M156.87,591.60 L160.47,585.20 L153.27,585.20 Z" fill="#37ad6b"/>
<path d="M163.84,595.10 L167.44,588.70 L160.24,588.70 Z" fill="#37ad6b"/>
<path d="M170.81,600.90 L174.41,594.50 L167.21,594.50 Z" fill="#37ad6b"/>
<path d="M177.78,606.30 L181.38,599.90 L174.18,599.90 Z" fill="#37ad6b"/>
<path d="M184.75,608.10 L188.35,601.70 L181.15,601.70 Z" fill="#37ad6b"/>
<path d="M191.72,609.80 L195.32,603.40 L188.12,603.40 Z" fill="#37ad6b"/>
<path d="M198.69,611.60 L202.29,605.20 L195.09,605.20 Z" fill="#37ad6b"/>
<path d="M205.66,613.22 L209.26,606.82 L202.06,606.82 Z" fill="#37ad6b"/>
<path d="M212.63,614.66 L216.23,608.26 L209.03,608.26 Z" fill="#37ad6b"/>
<path d="M219.60,615.58 L223.20,609.18 L216.00,609.18 Z" fill="#37ad6b"/>
<path d="M226.57,617.91 L230.17,611.51 L222.97,611.51 Z" fill="#37ad6b"/>
<path d="M233.54,619.07 L237.14,612.67 L229.94,612.67 Z" fill="#37ad6b"/>
<path d="M240.51,620.24 L244.11,613.84 L236.91,613.84 Z" fill="#37ad6b"/>
<path d="M247.48,621.41 L251.08,615.01 L243.88,615.01 Z" fill="#37ad6b"/>
<path d="M254.45,623.27 L258.05,616.87 L250.85,616.87 Z" fill="#37ad6b"/>
<path d="M261.42,624.20 L265.02,617.80 L257.82,617.80 Z" fill="#37ad6b"/>
<path d="M268.39,625.60 L271.99,619.20 L264.79,619.20 Z" fill="#37ad6b"/>
<path d="M275.36,626.07 L278.96,619.67 L271.76,619.67 Z" fill="#37ad6b"/>
<path d="M282.33,627.93 L285.93,621.53 L278.73,621.53 Z" fill="#37ad6b"/>
<path d="M289.30,628.86 L292.90,622.46 L285.70,622.46 Z" fill="#37ad6b"/>
<path d="M296.27,630.50 L299.87,624.10 L292.67,624.10 Z" fill="#37ad6b"/>
<path d="M303.24,631.89 L306.84,625.49 L299.64,625.49 Z" fill="#37ad6b"/>
<path d="M310.21,632.59 L313.81,626.19 L306.61,626.19 Z" fill="#37ad6b"/>
<path d="M317.18,634.23 L320.78,627.83 L313.58,627.83 Z" fill="#37ad6b"/>
<path d="M324.15,635.39 L327.75,628.99 L320.55,628.99 Z" fill="#37ad6b"/>
<path d="M331.12,636.56 L334.72,630.16 L327.52,630.16 Z" fill="#37ad6b"/>
<path d="M338.09,637.72 L341.69,631.32 L334.49,631.32 Z" fill="#37ad6b"/>
<path d="M345.06,638.89 L348.66,632.49 L341.46,632.49 Z" fill="#37ad6b"/>
<path d="M352.03,640.05 L355.63,633.65 L348.43,633.65 Z" fill="#37ad6b"/>
<path d="M359.00,641.22 L362.60,634.82 L355.40,634.82 Z" fill="#37ad6b"/>
<path d="M365.97,642.38 L369.57,635.98 L362.37,635.98 Z" fill="#37ad6b"/>
<path d="M372.94,643.55 L376.54,637.15 L369.34,637.15 Z" fill="#37ad6b"/>
<path d="M379.91,644.72 L383.51,638.32 L376.31,638.32 Z" fill="#37ad6b"/>
<path d="M386.88,648.21 L390.48,641.81 L383.28,641.81 Z" fill="#37ad6b"/>
<path d="M393.85,649.38 L397.45,642.98 L390.25,642.98 Z" fill="#37ad6b"/>
<path d="M400.82,650.54 L404.42,644.14 L397.22,644.14 Z" fill="#37ad6b"/>
<path d="M407.79,651.24 L411.39,644.84 L404.19,644.84 Z" fill="#37ad6b"/>
<path d="M414.76,652.17 L418.36,645.77 L411.16,645.77 Z" fill="#37ad6b"/>
<path d="M421.73,652.87 L425.33,646.47 L418.13,646.47 Z" fill="#37ad6b"/>
<path d="M428.70,653.34 L432.30,646.94 L425.10,646.94 Z" fill="#37ad6b"/>
<path d="M435.67,654.04 L439.27,647.64 L432.07,647.64 Z" fill="#37ad6b"/>
<path d="M442.64,654.51 L446.24,648.11 L439.04,648.11 Z" fill="#37ad6b"/>
<path d="M449.61,655.20 L453.21,648.80 L446.01,648.80 Z" fill="#37ad6b"/>
<path d="M456.58,655.90 L460.18,649.50 L452.98,649.50 Z" fill="#37ad6b"/>
<path d="M463.55,656.84 L467.15,650.44 L459.95,650.44 Z" fill="#37ad6b"/>
<path d="M470.52,657.54 L474.12,651.14 L466.92,651.14 Z" fill="#37ad6b"/>
<path d="M477.49,658.00 L481.09,651.60 L473.89,651.60 Z" fill="#37ad6b"/>
<path d="M484.46,658.70 L488.06,652.30 L480.86,652.30 Z" fill="#37ad6b"/>
<path d="M491.43,659.17 L495.03,652.77 L487.83,652.77 Z" fill="#37ad6b"/>
<path d="M498.40,659.87 L502.00,653.47 L494.80,653.47 Z" fill="#37ad6b"/>
<path d="M505.37,660.57 L508.97,654.17 L501.77,654.17 Z" fill="#37ad6b"/>
<path d="M512.34,660.57 L515.94,654.17 L508.74,654.17 Z" fill="#37ad6b"/>
<path d="M519.31,661.03 L522.91,654.63 L515.71,654.63 Z" fill="#37ad6b"/>
<path d="M122.02,498.70 L126.02,502.70 L122.02,506.70 L118.02,502.70 Z" fill="#b177de"/>
<path d="M128.99,496.40 L132.99,500.40 L128.99,504.40 L124.99,500.40 Z" fill="#b177de"/>
<path d="M135.96,494.70 L139.96,498.70 L135.96,502.70 L131.96,498.70 Z" fill="#b177de"/>
<path d="M142.93,501.30 L146.93,505.30 L142.93,509.30 L138.93,505.30 Z" fill="#b177de"/>
<path d="M149.90,501.00 L153.90,505.00 L149.90,509.00 L145.90,505.00 Z" fill="#b177de"/>
<path d="M156.87,501.70 L160.87,505.70 L156.87,509.70 L152.87,505.70 Z" fill="#b177de"/>
<path d="M163.84,502.70 L167.84,506.70 L163.84,510.70 L159.84,506.70 Z" fill="#b177de"/>
<path d="M170.81,509.30 L174.81,513.30 L170.81,517.30 L166.81,513.30 Z" fill="#b177de"/>
<path d="M177.78,518.00 L181.78,522.00 L177.78,526.00 L173.78,522.00 Z" fill="#b177de"/>
<path d="M184.75,523.30 L188.75,527.30 L184.75,531.30 L180.75,527.30 Z" fill="#b177de"/>
<path d="M191.72,525.60 L195.72,529.60 L191.72,533.60 L187.72,529.60 Z" fill="#b177de"/>
<path d="M198.69,528.00 L202.69,532.00 L198.69,536.00 L194.69,532.00 Z" fill="#b177de"/>
<path d="M205.66,529.36 L209.66,533.36 L205.66,537.36 L201.66,533.36 Z" fill="#b177de"/>
<path d="M212.63,530.66 L216.63,534.66 L212.63,538.66 L208.63,534.66 Z" fill="#b177de"/>
<path d="M219.60,531.92 L223.60,535.92 L219.60,539.92 L215.60,535.92 Z" fill="#b177de"/>
<path d="M226.57,534.25 L230.57,538.25 L226.57,542.25 L222.57,538.25 Z" fill="#b177de"/>
<path d="M233.54,536.58 L237.54,540.58 L233.54,544.58 L229.54,540.58 Z" fill="#b177de"/>
<path d="M240.51,538.91 L244.51,542.91 L240.51,546.91 L236.51,542.91 Z" fill="#b177de"/>
<path d="M247.48,541.94 L251.48,545.94 L247.48,549.94 L243.48,545.94 Z" fill="#b177de"/>
<path d="M254.45,544.74 L258.45,548.74 L254.45,552.74 L250.45,548.74 Z" fill="#b177de"/>
<path d="M261.42,547.07 L265.42,551.07 L261.42,555.07 L257.42,551.07 Z" fill="#b177de"/>
<path d="M268.39,549.40 L272.39,553.40 L268.39,557.40 L264.39,553.40 Z" fill="#b177de"/>
<path d="M275.36,551.73 L279.36,555.73 L275.36,559.73 L271.36,555.73 Z" fill="#b177de"/>
<path d="M282.33,553.60 L286.33,557.60 L282.33,561.60 L278.33,557.60 Z" fill="#b177de"/>
<path d="M289.30,555.23 L293.30,559.23 L289.30,563.23 L285.30,559.23 Z" fill="#b177de"/>
<path d="M296.27,556.05 L300.27,560.05 L296.27,564.05 L292.27,560.05 Z" fill="#b177de"/>
<path d="M303.24,557.10 L307.24,561.10 L303.24,565.10 L299.24,561.10 Z" fill="#b177de"/>
<path d="M310.21,558.73 L314.21,562.73 L310.21,566.73 L306.21,562.73 Z" fill="#b177de"/>
<path d="M317.18,560.13 L321.18,564.13 L317.18,568.13 L313.18,564.13 Z" fill="#b177de"/>
<path d="M324.15,561.06 L328.15,565.06 L324.15,569.06 L320.15,565.06 Z" fill="#b177de"/>
<path d="M331.12,562.46 L335.12,566.46 L331.12,570.46 L327.12,566.46 Z" fill="#b177de"/>
<path d="M338.09,564.09 L342.09,568.09 L338.09,572.09 L334.09,568.09 Z" fill="#b177de"/>
<path d="M345.06,565.25 L349.06,569.25 L345.06,573.25 L341.06,569.25 Z" fill="#b177de"/>
<path d="M352.03,567.12 L356.03,571.12 L352.03,575.12 L348.03,571.12 Z" fill="#b177de"/>
<path d="M359.00,568.05 L363.00,572.05 L359.00,576.05 L355.00,572.05 Z" fill="#b177de"/>
<path d="M365.97,569.45 L369.97,573.45 L365.97,577.45 L361.97,573.45 Z" fill="#b177de"/>
<path d="M372.94,571.08 L376.94,575.08 L372.94,579.08 L368.94,575.08 Z" fill="#b177de"/>
<path d="M379.91,572.25 L383.91,576.25 L379.91,580.25 L375.91,576.25 Z" fill="#b177de"/>
<path d="M386.88,573.76 L390.88,577.76 L386.88,581.76 L382.88,577.76 Z" fill="#b177de"/>
<path d="M393.85,575.41 L397.85,579.41 L393.85,583.41 L389.85,579.41 Z" fill="#b177de"/>
<path d="M400.82,576.11 L404.82,580.11 L400.82,584.11 L396.82,580.11 Z" fill="#b177de"/>
<path d="M407.79,577.27 L411.79,581.27 L407.79,585.27 L403.79,581.27 Z" fill="#b177de"/>
<path d="M414.76,578.21 L418.76,582.21 L414.76,586.21 L410.76,582.21 Z" fill="#b177de"/>
<path d="M421.73,578.91 L425.73,582.91 L421.73,586.91 L417.73,582.91 Z" fill="#b177de"/>
<path d="M428.70,580.07 L432.70,584.07 L428.70,588.07 L424.70,584.07 Z" fill="#b177de"/>
<path d="M435.67,580.77 L439.67,584.77 L435.67,588.77 L431.67,584.77 Z" fill="#b177de"/>
<path d="M442.64,581.94 L446.64,585.94 L442.64,589.94 L438.64,585.94 Z" fill="#b177de"/>
<path d="M449.61,582.87 L453.61,586.87 L449.61,590.87 L445.61,586.87 Z" fill="#b177de"/>
<path d="M456.58,584.27 L460.58,588.27 L456.58,592.27 L452.58,588.27 Z" fill="#b177de"/>
<path d="M463.55,585.20 L467.55,589.20 L463.55,593.20 L459.55,589.20 Z" fill="#b177de"/>
<path d="M470.52,586.36 L474.52,590.36 L470.52,594.36 L466.52,590.36 Z" fill="#b177de"/>
<path d="M477.49,587.53 L481.49,591.53 L477.49,595.53 L473.49,591.53 Z" fill="#b177de"/>
<path d="M484.46,588.23 L488.46,592.23 L484.46,596.23 L480.46,592.23 Z" fill="#b177de"/>
<path d="M491.43,589.40 L495.43,593.40 L491.43,597.40 L487.43,593.40 Z" fill="#b177de"/>
<path d="M498.40,590.56 L502.40,594.56 L498.40,598.56 L494.40,594.56 Z" fill="#b177de"/>
<path d="M505.37,591.73 L509.37,595.73 L505.37,599.73 L501.37,595.73 Z" fill="#b177de"/>
<path d="M512.34,592.43 L516.34,596.43 L512.34,600.43 L508.34,596.43 Z" fill="#b177de"/>
<path d="M519.31,593.59 L523.31,597.59 L519.31,601.59 L515.31,597.59 Z" fill="#b177de"/>
<path d="M118.82,505.30 L125.22,501.70 L125.22,508.90 Z" fill="#cc9900"/>
<path d="M125.79,503.10 L132.19,499.50 L132.19,506.70 Z" fill="#cc9900"/>
<path d="M132.76,505.70 L139.16,502.10 L139.16,509.30 Z" fill="#cc9900"/>
<path d="M139.73,506.70 L146.13,503.10 L146.13,510.30 Z" fill="#cc9900"/>
<path d="M146.70,506.30 L153.10,502.70 L153.10,509.90 Z" fill="#cc9900"/>
<path d="M153.67,507.10 L160.07,503.50 L160.07,510.70 Z" fill="#cc9900"/>
<path d="M160.64,510.00 L167.04,506.40 L167.04,513.60 Z" fill="#cc9900"/>
<path d="M167.61,519.30 L174.01,515.70 L174.01,522.90 Z" fill="#cc9900"/>
<path d="M174.58,524.70 L180.98,521.10 L180.98,528.30 Z" fill="#cc9900"/>
<path d="M181.55,527.30 L187.95,523.70 L187.95,530.90 Z" fill="#cc9900"/>
<path d="M188.52,530.00 L194.92,526.40 L194.92,533.60 Z" fill="#cc9900"/>
<path d="M195.49,533.10 L201.89,529.50 L201.89,536.70 Z" fill="#cc9900"/>
<path d="M202.46,534.54 L208.86,530.94 L208.86,538.14 Z" fill="#cc9900"/>
<path d="M209.43,536.03 L215.83,532.43 L215.83,539.63 Z" fill="#cc9900"/>
<path d="M216.40,537.79 L222.80,534.19 L222.80,541.39 Z" fill="#cc9900"/>
<path d="M223.37,540.12 L229.77,536.52 L229.77,543.72 Z" fill="#cc9900"/>
<path d="M230.34,542.45 L236.74,538.85 L236.74,546.05 Z" fill="#cc9900"/>
<path d="M237.31,544.78 L243.71,541.18 L243.71,548.38 Z" fill="#cc9900"/>
<path d="M244.28,547.81 L250.68,544.21 L250.68,551.41 Z" fill="#cc9900"/>
<path d="M251.25,550.61 L257.65,547.01 L257.65,554.21 Z" fill="#cc9900"/>
<path d="M258.22,552.94 L264.62,549.34 L264.62,556.54 Z" fill="#cc9900"/>
<path d="M265.19,555.27 L271.59,551.67 L271.59,558.87 Z" fill="#cc9900"/>
<path d="M272.16,557.60 L278.56,554.00 L278.56,561.20 Z" fill="#cc9900"/>
<path d="M279.13,559.46 L285.53,555.86 L285.53,563.06 Z" fill="#cc9900"/>
<path d="M286.10,561.10 L292.50,557.50 L292.50,564.70 Z" fill="#cc9900"/>
<path d="M293.07,562.73 L299.47,559.13 L299.47,566.33 Z" fill="#cc9900"/>
<path d="M300.04,564.13 L306.44,560.53 L306.44,567.73 Z" fill="#cc9900"/>
<path d="M307.01,565.76 L313.41,562.16 L313.41,569.36 Z" fill="#cc9900"/>
<path d="M313.98,566.92 L320.38,563.32 L320.38,570.52 Z" fill="#cc9900"/>
<path d="M320.95,568.09 L327.35,564.49 L327.35,571.69 Z" fill="#cc9900"/>
<path d="M327.92,569.25 L334.32,565.65 L334.32,572.85 Z" fill="#cc9900"/>
<path d="M334.89,570.42 L341.29,566.82 L341.29,574.02 Z" fill="#cc9900"/>
<path d="M341.86,571.59 L348.26,567.99 L348.26,575.19 Z" fill="#cc9900"/>
<path d="M348.83,572.75 L355.23,569.15 L355.23,576.35 Z" fill="#cc9900"/>
<path d="M355.80,573.92 L362.20,570.32 L362.20,577.52 Z" fill="#cc9900"/>
<path d="M362.77,575.78 L369.17,572.18 L369.17,579.38 Z" fill="#cc9900"/>
<path d="M369.74,576.71 L376.14,573.11 L376.14,580.31 Z" fill="#cc9900"/>
<path d="M376.71,578.11 L383.11,574.51 L383.11,581.71 Z" fill="#cc9900"/>
<path d="M383.68,579.51 L390.08,575.91 L390.08,583.11 Z" fill="#cc9900"/>
<path d="M390.65,580.91 L397.05,577.31 L397.05,584.51 Z" fill="#cc9900"/>
<path d="M397.62,581.61 L404.02,578.01 L404.02,585.21 Z" fill="#cc9900"/>
<path d="M404.59,582.77 L410.99,579.17 L410.99,586.37 Z" fill="#cc9900"/>
<path d="M411.56,583.71 L417.96,580.11 L417.96,587.31 Z" fill="#cc9900"/>
<path d="M418.53,584.41 L424.93,580.81 L424.93,588.01 Z" fill="#cc9900"/>
<path d="M425.50,585.57 L431.90,581.97 L431.90,589.17 Z" fill="#cc9900"/>
<path d="M432.47,586.27 L438.87,582.67 L438.87,589.87 Z" fill="#cc9900"/>
<path d="M439.44,587.44 L445.84,583.84 L445.84,591.04 Z" fill="#cc9900"/>
<path d="M446.41,588.37 L452.81,584.77 L452.81,591.97 Z" fill="#cc9900"/>
<path d="M453.38,589.77 L459.78,586.17 L459.78,593.37 Z" fill="#cc9900"/>
<path d="M460.35,590.70 L466.75,587.10 L466.75,594.30 Z" fill="#cc9900"/>
<path d="M467.32,591.86 L473.72,588.26 L473.72,595.46 Z" fill="#cc9900"/>
<path d="M474.29,593.03 L480.69,589.43 L480.69,596.63 Z" fill="#cc9900"/>
<path d="M481.26,593.73 L487.66,590.13 L487.66,597.33 Z" fill="#cc9900"/>
<path d="M488.23,594.90 L494.63,591.30 L494.63,598.50 Z" fill="#cc9900"/>
<path d="M495.20,596.06 L501.60,592.46 L501.60,599.66 Z" fill="#cc9900"/>
<path d="M502.17,597.23 L508.57,593.63 L508.57,600.83 Z" fill="#cc9900"/>
<path d="M509.14,597.93 L515.54,594.33 L515.54,601.53 Z" fill="#cc9900"/>
<path d="M516.11,599.09 L522.51,595.49 L522.51,602.69 Z" fill="#cc9900"/>
<path d="M125.22,518.10 L118.82,514.50 L118.82,521.70 Z" fill="#00cbcc"/>
<path d="M132.19,517.50 L125.79,513.90 L125.79,521.10 Z" fill="#00cbcc"/>
<path d="M139.16,517.50 L132.76,513.90 L132.76,521.10 Z" fill="#00cbcc"/>
<path d="M146.13,526.00 L139.73,522.40 L139.73,529.60 Z" fill="#00cbcc"/>
<path d="M153.10,526.30 L146.70,522.70 L146.70,529.90 Z" fill="#00cbcc"/>
<path d="M160.07,527.30 L153.67,523.70 L153.67,530.90 Z" fill="#00cbcc"/>
<path d="M167.04,527.60 L160.64,524.00 L160.64,531.20 Z" fill="#00cbcc"/>
<path d="M174.01,528.00 L167.61,524.40 L167.61,531.60 Z" fill="#00cbcc"/>
<path d="M180.98,538.50 L174.58,534.90 L174.58,542.10 Z" fill="#00cbcc"/>
<path d="M187.95,539.00 L181.55,535.40 L181.55,542.60 Z" fill="#00cbcc"/>
<path d="M194.92,539.00 L188.52,535.40 L188.52,542.60 Z" fill="#00cbcc"/>
<path d="M201.89,539.40 L195.49,535.80 L195.49,543.00 Z" fill="#00cbcc"/>
<path d="M208.86,539.33 L202.46,535.73 L202.46,542.93 Z" fill="#00cbcc"/>
<path d="M215.83,539.76 L209.43,536.16 L209.43,543.36 Z" fill="#00cbcc"/>
<path d="M222.80,539.42 L216.40,535.82 L216.40,543.02 Z" fill="#00cbcc"/>
<path d="M229.77,539.42 L223.37,535.82 L223.37,543.02 Z" fill="#00cbcc"/>
<path d="M236.74,539.65 L230.34,536.05 L230.34,543.25 Z" fill="#00cbcc"/>
<path d="M243.71,539.65 L237.31,536.05 L237.31,543.25 Z" fill="#00cbcc"/>
<path d="M250.68,540.12 L244.28,536.52 L244.28,543.72 Z" fill="#00cbcc"/>
<path d="M257.65,540.12 L251.25,536.52 L251.25,543.72 Z" fill="#00cbcc"/>
<path d="M264.62,540.12 L258.22,536.52 L258.22,543.72 Z" fill="#00cbcc"/>
<path d="M271.59,540.82 L265.19,537.22 L265.19,544.42 Z" fill="#00cbcc"/>
<path d="M285.53,541.75 L279.13,538.15 L279.13,545.35 Z" fill="#00cbcc"/>
<path d="M292.50,541.75 L286.10,538.15 L286.10,545.35 Z" fill="#00cbcc"/>
<path d="M299.47,542.45 L293.07,538.85 L293.07,546.05 Z" fill="#00cbcc"/>
<path d="M306.44,543.15 L300.04,539.55 L300.04,546.75 Z" fill="#00cbcc"/>
<path d="M313.41,543.61 L307.01,540.01 L307.01,547.21 Z" fill="#00cbcc"/>
<path d="M320.38,544.08 L313.98,540.48 L313.98,547.68 Z" fill="#00cbcc"/>
<path d="M327.35,544.31 L320.95,540.71 L320.95,547.91 Z" fill="#00cbcc"/>
<path d="M334.32,544.78 L327.92,541.18 L327.92,548.38 Z" fill="#00cbcc"/>
<path d="M341.29,545.94 L334.89,542.34 L334.89,549.54 Z" fill="#00cbcc"/>
<path d="M348.26,546.64 L341.86,543.04 L341.86,550.24 Z" fill="#00cbcc"/>
<path d="M355.23,548.28 L348.83,544.68 L348.83,551.88 Z" fill="#00cbcc"/>
<path d="M362.20,549.44 L355.80,545.84 L355.80,553.04 Z" fill="#00cbcc"/>
<path d="M369.17,551.07 L362.77,547.47 L362.77,554.67 Z" fill="#00cbcc"/>
<path d="M376.14,552.47 L369.74,548.87 L369.74,556.07 Z" fill="#00cbcc"/>
<path d="M383.11,554.10 L376.71,550.50 L376.71,557.70 Z" fill="#00cbcc"/>
<path d="M390.08,559.46 L383.68,555.86 L383.68,563.06 Z" fill="#00cbcc"/>
<path d="M397.05,560.40 L390.65,556.80 L390.65,564.00 Z" fill="#00cbcc"/>
<path d="M404.02,562.73 L397.62,559.13 L397.62,566.33 Z" fill="#00cbcc"/>
<path d="M410.99,564.59 L404.59,560.99 L404.59,568.19 Z" fill="#00cbcc"/>
<path d="M417.96,566.92 L411.56,563.32 L411.56,570.52 Z" fill="#00cbcc"/>
<path d="M424.93,569.72 L418.53,566.12 L418.53,573.32 Z" fill="#00cbcc"/>
<path d="M431.90,571.12 L425.50,567.52 L425.50,574.72 Z" fill="#00cbcc"/>
<path d="M438.87,573.22 L432.47,569.62 L432.47,576.82 Z" fill="#00cbcc"/>
<path d="M445.84,575.08 L439.44,571.48 L439.44,578.68 Z" fill="#00cbcc"/>
<path d="M452.81,577.41 L446.41,573.81 L446.41,581.01 Z" fill="#00cbcc"/>
<path d="M459.78,578.58 L453.38,574.98 L453.38,582.18 Z" fill="#00cbcc"/>
<path d="M466.75,580.91 L460.35,577.31 L460.35,584.51 Z" fill="#00cbcc"/>
<path d="M473.72,582.77 L467.32,579.17 L467.32,586.37 Z" fill="#00cbcc"/>
<path d="M480.69,584.41 L474.29,580.81 L474.29,588.01 Z" fill="#00cbcc"/>
<path d="M487.66,586.50 L481.26,582.90 L481.26,590.10 Z" fill="#00cbcc"/>
<path d="M494.63,587.90 L488.23,584.30 L488.23,591.50 Z" fill="#00cbcc"/>
<path d="M501.60,590.23 L495.20,586.63 L495.20,593.83 Z" fill="#00cbcc"/>
<path d="M508.57,591.86 L502.17,588.26 L502.17,595.46 Z" fill="#00cbcc"/>
<path d="M515.54,593.26 L509.14,589.66 L509.14,596.86 Z" fill="#00cbcc"/>
<path d="M522.51,594.90 L516.11,591.30 L516.11,598.50 Z" fill="#00cbcc"/>
<path d="M122.02,520.30 L125.22,522.15 L125.22,525.85 L122.02,527.70 L118.82,525.85 L118.82,522.15 Z" fill="#7d4e4e"/>
<path d="M128.99,516.10 L132.19,517.95 L132.19,521.65 L128.99,523.50 L125.79,521.65 L125.79,517.95 Z" fill="#7d4e4e"/>
<path d="M135.96,515.80 L139.16,517.65 L139.16,521.35 L135.96,523.20 L132.76,521.35 L132.76,517.65 Z" fill="#7d4e4e"/>
<path d="M142.93,527.60 L146.13,529.45 L146.13,533.15 L142.93,535.00 L139.73,533.15 L139.73,529.45 Z" fill="#7d4e4e"/>
<path d="M149.90,527.30 L153.10,529.15 L153.10,532.85 L149.90,534.70 L146.70,532.85 L146.70,529.15 Z" fill="#7d4e4e"/>
<path d="M156.87,528.30 L160.07,530.15 L160.07,533.85 L156.87,535.70 L153.67,533.85 L153.67,530.15 Z" fill="#7d4e4e"/>
<path d="M163.84,529.00 L167.04,530.85 L167.04,534.55 L163.84,536.40 L160.64,534.55 L160.64,530.85 Z" fill="#7d4e4e"/>
<path d="M170.81,529.00 L174.01,530.85 L174.01,534.55 L170.81,536.40 L167.61,534.55 L167.61,530.85 Z" fill="#7d4e4e"/>
<path d="M177.78,542.20 L180.98,544.05 L180.98,547.75 L177.78,549.60 L174.58,547.75 L174.58,544.05 Z" fill="#7d4e4e"/>
<path d="M184.75,543.40 L187.95,545.25 L187.95,548.95 L184.75,550.80 L181.55,548.95 L181.55,545.25 Z" fill="#7d4e4e"/>
<path d="M191.72,543.90 L194.92,545.75 L194.92,549.45 L191.72,551.30 L188.52,549.45 L188.52,545.75 Z" fill="#7d4e4e"/>
<path d="M198.69,544.10 L201.89,545.95 L201.89,549.65 L198.69,551.50 L195.49,549.65 L195.49,545.95 Z" fill="#7d4e4e"/>
<path d="M205.66,544.35 L208.86,546.20 L208.86,549.90 L205.66,551.75 L202.46,549.90 L202.46,546.20 Z" fill="#7d4e4e"/>
<path d="M212.63,544.47 L215.83,546.32 L215.83,550.02 L212.63,551.87 L209.43,550.02 L209.43,546.32 Z" fill="#7d4e4e"/>
<path d="M219.60,544.58 L222.80,546.43 L222.80,550.13 L219.60,551.98 L216.40,550.13 L216.40,546.43 Z" fill="#7d4e4e"/>
<path d="M226.57,544.58 L229.77,546.43 L229.77,550.13 L226.57,551.98 L223.37,550.13 L223.37,546.43 Z" fill="#7d4e4e"/>
<path d="M233.54,544.58 L236.74,546.43 L236.74,550.13 L233.54,551.98 L230.34,550.13 L230.34,546.43 Z" fill="#7d4e4e"/>
<path d="M240.51,544.58 L243.71,546.43 L243.71,550.13 L240.51,551.98 L237.31,550.13 L237.31,546.43 Z" fill="#7d4e4e"/>
<path d="M247.48,544.58 L250.68,546.43 L250.68,550.13 L247.48,551.98 L244.28,550.13 L244.28,546.43 Z" fill="#7d4e4e"/>
<path d="M254.45,544.58 L257.65,546.43 L257.65,550.13 L254.45,551.98 L251.25,550.13 L251.25,546.43 Z" fill="#7d4e4e"/>
<path d="M261.42,544.58 L264.62,546.43 L264.62,550.13 L261.42,551.98 L258.22,550.13 L258.22,546.43 Z" fill="#7d4e4e"/>
<path d="M268.39,545.04 L271.59,546.89 L271.59,550.59 L268.39,552.44 L265.19,550.59 L265.19,546.89 Z" fill="#7d4e4e"/>
<path d="M275.36,545.04 L278.56,546.89 L278.56,550.59 L275.36,552.44 L272.16,550.59 L272.16,546.89 Z" fill="#7d4e4e"/>
<path d="M289.30,546.44 L292.50,548.29 L292.50,551.99 L289.30,553.84 L286.10,551.99 L286.10,548.29 Z" fill="#7d4e4e"/>
<path d="M296.27,547.14 L299.47,548.99 L299.47,552.69 L296.27,554.54 L293.07,552.69 L293.07,548.99 Z" fill="#7d4e4e"/>
<path d="M303.24,547.72 L306.44,549.57 L306.44,553.27 L303.24,555.12 L300.04,553.27 L300.04,549.57 Z" fill="#7d4e4e"/>
<path d="M310.21,548.07 L313.41,549.92 L313.41,553.62 L310.21,555.47 L307.01,553.62 L307.01,549.92 Z" fill="#7d4e4e"/>
<path d="M317.18,548.07 L320.38,549.92 L320.38,553.62 L317.18,555.47 L313.98,553.62 L313.98,549.92 Z" fill="#7d4e4e"/>
<path d="M324.15,548.77 L327.35,550.62 L327.35,554.32 L324.15,556.17 L320.95,554.32 L320.95,550.62 Z" fill="#7d4e4e"/>
<path d="M331.12,549.24 L334.32,551.09 L334.32,554.79 L331.12,556.64 L327.92,554.79 L327.92,551.09 Z" fill="#7d4e4e"/>
<path d="M338.09,549.70 L341.29,551.55 L341.29,555.25 L338.09,557.10 L334.89,555.25 L334.89,551.55 Z" fill="#7d4e4e"/>
<path d="M345.06,550.40 L348.26,552.25 L348.26,555.95 L345.06,557.80 L341.86,555.95 L341.86,552.25 Z" fill="#7d4e4e"/>
<path d="M352.03,551.57 L355.23,553.42 L355.23,557.12 L352.03,558.97 L348.83,557.12 L348.83,553.42 Z" fill="#7d4e4e"/>
<path d="M359.00,551.57 L362.20,553.42 L362.20,557.12 L359.00,558.97 L355.80,557.12 L355.80,553.42 Z" fill="#7d4e4e"/>
<path d="M365.97,552.27 L369.17,554.12 L369.17,557.82 L365.97,559.67 L362.77,557.82 L362.77,554.12 Z" fill="#7d4e4e"/>
<path d="M372.94,552.27 L376.14,554.12 L376.14,557.82 L372.94,559.67 L369.74,557.82 L369.74,554.12 Z" fill="#7d4e4e"/>
<path d="M379.91,553.20 L383.11,555.05 L383.11,558.75 L379.91,560.60 L376.71,558.75 L376.71,555.05 Z" fill="#7d4e4e"/>
<path d="M386.88,552.97 L390.08,554.82 L390.08,558.52 L386.88,560.37 L383.68,558.52 L383.68,554.82 Z" fill="#7d4e4e"/>
<path d="M393.85,553.32 L397.05,555.17 L397.05,558.87 L393.85,560.72 L390.65,558.87 L390.65,555.17 Z" fill="#7d4e4e"/>
<path d="M400.82,554.60 L404.02,556.45 L404.02,560.15 L400.82,562.00 L397.62,560.15 L397.62,556.45 Z" fill="#7d4e4e"/>
<path d="M407.79,553.90 L410.99,555.75 L410.99,559.45 L407.79,561.30 L404.59,559.45 L404.59,555.75 Z" fill="#7d4e4e"/>
<path d="M414.76,555.06 L417.96,556.91 L417.96,560.61 L414.76,562.46 L411.56,560.61 L411.56,556.91 Z" fill="#7d4e4e"/>
<path d="M421.73,555.06 L424.93,556.91 L424.93,560.61 L421.73,562.46 L418.53,560.61 L418.53,556.91 Z" fill="#7d4e4e"/>
<path d="M428.70,556.23 L431.90,558.08 L431.90,561.78 L428.70,563.63 L425.50,561.78 L425.50,558.08 Z" fill="#7d4e4e"/>
<path d="M435.67,556.23 L438.87,558.08 L438.87,561.78 L435.67,563.63 L432.47,561.78 L432.47,558.08 Z" fill="#7d4e4e"/>
<path d="M442.64,557.40 L445.84,559.25 L445.84,562.95 L442.64,564.80 L439.44,562.95 L439.44,559.25 Z" fill="#7d4e4e"/>
<path d="M449.61,557.86 L452.81,559.71 L452.81,563.41 L449.61,565.26 L446.41,563.41 L446.41,559.71 Z" fill="#7d4e4e"/>
<path d="M456.58,557.86 L459.78,559.71 L459.78,563.41 L456.58,565.26 L453.38,563.41 L453.38,559.71 Z" fill="#7d4e4e"/>
<path d="M463.55,559.03 L466.75,560.88 L466.75,564.58 L463.55,566.43 L460.35,564.58 L460.35,560.88 Z" fill="#7d4e4e"/>
<path d="M470.52,559.38 L473.72,561.23 L473.72,564.93 L470.52,566.78 L467.32,564.93 L467.32,561.23 Z" fill="#7d4e4e"/>
<path d="M477.49,559.03 L480.69,560.88 L480.69,564.58 L477.49,566.43 L474.29,564.58 L474.29,560.88 Z" fill="#7d4e4e"/>
<path d="M484.46,560.19 L487.66,562.04 L487.66,565.74 L484.46,567.59 L481.26,565.74 L481.26,562.04 Z" fill="#7d4e4e"/>
<path d="M491.43,561.36 L494.63,563.21 L494.63,566.91 L491.43,568.76 L488.23,566.91 L488.23,563.21 Z" fill="#7d4e4e"/>
<path d="M498.40,561.36 L501.60,563.21 L501.60,566.91 L498.40,568.76 L495.20,566.91 L495.20,563.21 Z" fill="#7d4e4e"/>
<path d="M505.37,562.06 L508.57,563.91 L508.57,567.61 L505.37,569.46 L502.17,567.61 L502.17,563.91 Z" fill="#7d4e4e"/>
<path d="M512.34,562.06 L515.54,563.91 L515.54,567.61 L512.34,569.46 L509.14,567.61 L509.14,563.91 Z" fill="#7d4e4e"/>
<path d="M519.31,563.22 L522.51,565.07 L522.51,568.77 L519.31,570.62 L516.11,568.77 L516.11,565.07 Z" fill="#7d4e4e"/>
<path d="M122.02,508.70 L122.96,511.21 L125.63,511.33 L123.54,512.99 L124.25,515.57 L122.02,514.10 L119.79,515.57 L120.50,512.99 L118.41,511.33 L121.08,511.21 Z" fill="#8e8e00"/>
<path d="M128.99,508.20 L129.93,510.71 L132.60,510.83 L130.51,512.49 L131.22,515.07 L128.99,513.60 L126.76,515.07 L127.47,512.49 L125.38,510.83 L128.05,510.71 Z" fill="#8e8e00"/>
<path d="M135.96,507.70 L136.90,510.21 L139.57,510.33 L137.48,511.99 L138.19,514.57 L135.96,513.10 L133.73,514.57 L134.44,511.99 L132.35,510.33 L135.02,510.21 Z" fill="#8e8e00"/>
<path d="M142.93,513.40 L143.87,515.91 L146.54,516.03 L144.45,517.69 L145.16,520.27 L142.93,518.80 L140.70,520.27 L141.41,517.69 L139.32,516.03 L141.99,515.91 Z" fill="#8e8e00"/>
<path d="M149.90,513.40 L150.84,515.91 L153.51,516.03 L151.42,517.69 L152.13,520.27 L149.90,518.80 L147.67,520.27 L148.38,517.69 L146.29,516.03 L148.96,515.91 Z" fill="#8e8e00"/>
<path d="M156.87,513.40 L157.81,515.91 L160.48,516.03 L158.39,517.69 L159.10,520.27 L156.87,518.80 L154.64,520.27 L155.35,517.69 L153.26,516.03 L155.93,515.91 Z" fill="#8e8e00"/>
<path d="M163.84,513.40 L164.78,515.91 L167.45,516.03 L165.36,517.69 L166.07,520.27 L163.84,518.80 L161.61,520.27 L162.32,517.69 L160.23,516.03 L162.90,515.91 Z" fill="#8e8e00"/>
<path d="M170.81,514.00 L171.75,516.51 L174.42,516.63 L172.33,518.29 L173.04,520.87 L170.81,519.40 L168.58,520.87 L169.29,518.29 L167.20,516.63 L169.87,516.51 Z" fill="#8e8e00"/>
<path d="M177.78,521.20 L178.72,523.71 L181.39,523.83 L179.30,525.49 L180.01,528.07 L177.78,526.60 L175.55,528.07 L176.26,525.49 L174.17,523.83 L176.84,523.71 Z" fill="#8e8e00"/>
<path d="M184.75,521.70 L185.69,524.21 L188.36,524.33 L186.27,525.99 L186.98,528.57 L184.75,527.10 L182.52,528.57 L183.23,525.99 L181.14,524.33 L183.81,524.21 Z" fill="#8e8e00"/>
<path d="M191.72,521.70 L192.66,524.21 L195.33,524.33 L193.24,525.99 L193.95,528.57 L191.72,527.10 L189.49,528.57 L190.20,525.99 L188.11,524.33 L190.78,524.21 Z" fill="#8e8e00"/>
<path d="M198.69,521.70 L199.63,524.21 L202.30,524.33 L200.21,525.99 L200.92,528.57 L198.69,527.10 L196.46,528.57 L197.17,525.99 L195.08,524.33 L197.75,524.21 Z" fill="#8e8e00"/>
<path d="M205.66,521.65 L206.60,524.15 L209.27,524.28 L207.18,525.94 L207.89,528.52 L205.66,527.05 L203.43,528.52 L204.14,525.94 L202.05,524.28 L204.72,524.15 Z" fill="#8e8e00"/>
<path d="M212.63,522.23 L213.57,524.74 L216.24,524.86 L214.15,526.53 L214.86,529.11 L212.63,527.63 L210.40,529.11 L211.11,526.53 L209.02,524.86 L211.69,524.74 Z" fill="#8e8e00"/>
<path d="M219.60,523.53 L220.54,526.04 L223.21,526.16 L221.12,527.82 L221.83,530.40 L219.60,528.93 L217.37,530.40 L218.08,527.82 L215.99,526.16 L218.66,526.04 Z" fill="#8e8e00"/>
<path d="M226.57,528.19 L227.51,530.70 L230.18,530.82 L228.09,532.49 L228.80,535.07 L226.57,533.59 L224.34,535.07 L225.05,532.49 L222.96,530.82 L225.63,530.70 Z" fill="#8e8e00"/>
<path d="M233.54,534.49 L234.48,536.99 L237.15,537.11 L235.06,538.78 L235.77,541.36 L233.54,539.89 L231.31,541.36 L232.02,538.78 L229.93,537.11 L232.60,536.99 Z" fill="#8e8e00"/>
<path d="M240.51,540.78 L241.45,543.28 L244.12,543.40 L242.03,545.07 L242.74,547.65 L240.51,546.18 L238.28,547.65 L238.99,545.07 L236.90,543.40 L239.57,543.28 Z" fill="#8e8e00"/>
<path d="M247.48,547.77 L248.42,550.28 L251.09,550.40 L249.00,552.07 L249.71,554.65 L247.48,553.17 L245.25,554.65 L245.96,552.07 L243.87,550.40 L246.54,550.28 Z" fill="#8e8e00"/>
<path d="M254.45,555.46 L255.39,557.97 L258.06,558.09 L255.97,559.76 L256.68,562.34 L254.45,560.86 L252.22,562.34 L252.93,559.76 L250.84,558.09 L253.51,557.97 Z" fill="#8e8e00"/>
<path d="M261.42,561.76 L262.36,564.26 L265.03,564.38 L262.94,566.05 L263.65,568.63 L261.42,567.16 L259.19,568.63 L259.90,566.05 L257.81,564.38 L260.48,564.26 Z" fill="#8e8e00"/>
<path d="M268.39,569.45 L269.33,571.96 L272.00,572.08 L269.91,573.75 L270.62,576.32 L268.39,574.85 L266.16,576.32 L266.87,573.75 L264.78,572.08 L267.45,571.96 Z" fill="#8e8e00"/>
<path d="M275.36,575.28 L276.30,577.78 L278.97,577.90 L276.88,579.57 L277.59,582.15 L275.36,580.68 L273.13,582.15 L273.84,579.57 L271.75,577.90 L274.42,577.78 Z" fill="#8e8e00"/>
<path d="M282.33,580.64 L283.27,583.14 L285.94,583.27 L283.85,584.93 L284.56,587.51 L282.33,586.04 L280.10,587.51 L280.81,584.93 L278.72,583.27 L281.39,583.14 Z" fill="#8e8e00"/>
<path d="M289.30,584.60 L290.24,587.11 L292.91,587.23 L290.82,588.90 L291.53,591.48 L289.30,590.00 L287.07,591.48 L287.78,588.90 L285.69,587.23 L288.36,587.11 Z" fill="#8e8e00"/>
<path d="M296.27,588.80 L297.21,591.30 L299.88,591.42 L297.79,593.09 L298.50,595.67 L296.27,594.20 L294.04,595.67 L294.75,593.09 L292.66,591.42 L295.33,591.30 Z" fill="#8e8e00"/>
<path d="M303.24,594.39 L304.18,596.90 L306.85,597.02 L304.76,598.69 L305.47,601.27 L303.24,599.79 L301.01,601.27 L301.72,598.69 L299.63,597.02 L302.30,596.90 Z" fill="#8e8e00"/>
<path d="M310.21,597.42 L311.15,599.93 L313.82,600.05 L311.73,601.72 L312.44,604.30 L310.21,602.82 L307.98,604.30 L308.69,601.72 L306.60,600.05 L309.27,599.93 Z" fill="#8e8e00"/>
<path d="M317.18,600.45 L318.12,602.96 L320.79,603.08 L318.70,604.75 L319.41,607.33 L317.18,605.85 L314.95,607.33 L315.66,604.75 L313.57,603.08 L316.24,602.96 Z" fill="#8e8e00"/>
<path d="M324.15,600.22 L325.09,602.73 L327.76,602.85 L325.67,604.51 L326.38,607.09 L324.15,605.62 L321.92,607.09 L322.63,604.51 L320.54,602.85 L323.21,602.73 Z" fill="#8e8e00"/>
<path d="M331.12,601.62 L332.06,604.12 L334.73,604.24 L332.64,605.91 L333.35,608.49 L331.12,607.02 L328.89,608.49 L329.60,605.91 L327.51,604.24 L330.18,604.12 Z" fill="#8e8e00"/>
<path d="M338.09,606.05 L339.03,608.55 L341.70,608.67 L339.61,610.34 L340.32,612.92 L338.09,611.45 L335.86,612.92 L336.57,610.34 L334.48,608.67 L337.15,608.55 Z" fill="#8e8e00"/>
<path d="M345.06,607.91 L346.00,610.42 L348.67,610.54 L346.58,612.21 L347.29,614.79 L345.06,613.31 L342.83,614.79 L343.54,612.21 L341.45,610.54 L344.12,610.42 Z" fill="#8e8e00"/>
<path d="M352.03,610.24 L352.97,612.75 L355.64,612.87 L353.55,614.54 L354.26,617.12 L352.03,615.64 L349.80,617.12 L350.51,614.54 L348.42,612.87 L351.09,612.75 Z" fill="#8e8e00"/>
<path d="M359.00,610.71 L359.94,613.21 L362.61,613.34 L360.52,615.00 L361.23,617.58 L359.00,616.11 L356.77,617.58 L357.48,615.00 L355.39,613.34 L358.06,613.21 Z" fill="#8e8e00"/>
<path d="M365.97,612.57 L366.91,615.08 L369.58,615.20 L367.49,616.87 L368.20,619.45 L365.97,617.97 L363.74,619.45 L364.45,616.87 L362.36,615.20 L365.03,615.08 Z" fill="#8e8e00"/>
<path d="M372.94,614.44 L373.88,616.94 L376.55,617.06 L374.46,618.73 L375.17,621.31 L372.94,619.84 L370.71,621.31 L371.42,618.73 L369.33,617.06 L372.00,616.94 Z" fill="#8e8e00"/>
<path d="M379.91,614.91 L380.85,617.41 L383.52,617.53 L381.43,619.20 L382.14,621.78 L379.91,620.31 L377.68,621.78 L378.39,619.20 L376.30,617.53 L378.97,617.41 Z" fill="#8e8e00"/>
<path d="M386.88,614.91 L387.82,617.41 L390.49,617.53 L388.40,619.20 L389.11,621.78 L386.88,620.31 L384.65,621.78 L385.36,619.20 L383.27,617.53 L385.94,617.41 Z" fill="#8e8e00"/>
<path d="M393.85,616.77 L394.79,619.28 L397.46,619.40 L395.37,621.06 L396.08,623.64 L393.85,622.17 L391.62,623.64 L392.33,621.06 L390.24,619.40 L392.91,619.28 Z" fill="#8e8e00"/>
<path d="M400.82,620.03 L401.76,622.54 L404.43,622.66 L402.34,624.33 L403.05,626.91 L400.82,625.43 L398.59,626.91 L399.30,624.33 L397.21,622.66 L399.88,622.54 Z" fill="#8e8e00"/>
<path d="M407.79,621.20 L408.73,623.70 L411.40,623.82 L409.31,625.49 L410.02,628.07 L407.79,626.60 L405.56,628.07 L406.27,625.49 L404.18,623.82 L406.85,623.70 Z" fill="#8e8e00"/>
<path d="M414.76,621.90 L415.70,624.40 L418.37,624.52 L416.28,626.19 L416.99,628.77 L414.76,627.30 L412.53,628.77 L413.24,626.19 L411.15,624.52 L413.82,624.40 Z" fill="#8e8e00"/>
<path d="M421.73,624.23 L422.67,626.73 L425.34,626.85 L423.25,628.52 L423.96,631.10 L421.73,629.63 L419.50,631.10 L420.21,628.52 L418.12,626.85 L420.79,626.73 Z" fill="#8e8e00"/>
<path d="M428.70,626.56 L429.64,629.07 L432.31,629.19 L430.22,630.85 L430.93,633.43 L428.70,631.96 L426.47,633.43 L427.18,630.85 L425.09,629.19 L427.76,629.07 Z" fill="#8e8e00"/>
<path d="M435.67,627.73 L436.61,630.23 L439.28,630.35 L437.19,632.02 L437.90,634.60 L435.67,633.13 L433.44,634.60 L434.15,632.02 L432.06,630.35 L434.73,630.23 Z" fill="#8e8e00"/>
<path d="M442.64,628.89 L443.58,631.40 L446.25,631.52 L444.16,633.19 L444.87,635.77 L442.64,634.29 L440.41,635.77 L441.12,633.19 L439.03,631.52 L441.70,631.40 Z" fill="#8e8e00"/>
<path d="M449.61,626.56 L450.55,629.07 L453.22,629.19 L451.13,630.85 L451.84,633.43 L449.61,631.96 L447.38,633.43 L448.09,630.85 L446.00,629.19 L448.67,629.07 Z" fill="#8e8e00"/>
<path d="M456.58,629.36 L457.52,631.86 L460.19,631.98 L458.10,633.65 L458.81,636.23 L456.58,634.76 L454.35,636.23 L455.06,633.65 L452.97,631.98 L455.64,631.86 Z" fill="#8e8e00"/>
<path d="M463.55,631.22 L464.49,633.73 L467.16,633.85 L465.07,635.52 L465.78,638.10 L463.55,636.62 L461.32,638.10 L462.03,635.52 L459.94,633.85 L462.61,633.73 Z" fill="#8e8e00"/>
<path d="M470.52,632.39 L471.46,634.89 L474.13,635.01 L472.04,636.68 L472.75,639.26 L470.52,637.79 L468.29,639.26 L469.00,636.68 L466.91,635.01 L469.58,634.89 Z" fill="#8e8e00"/>
<path d="M477.49,633.55 L478.43,636.06 L481.10,636.18 L479.01,637.85 L479.72,640.43 L477.49,638.95 L475.26,640.43 L475.97,637.85 L473.88,636.18 L476.55,636.06 Z" fill="#8e8e00"/>
<path d="M484.46,634.49 L485.40,636.99 L488.07,637.11 L485.98,638.78 L486.69,641.36 L484.46,639.89 L482.23,641.36 L482.94,638.78 L480.85,637.11 L483.52,636.99 Z" fill="#8e8e00"/>
<path d="M491.43,635.42 L492.37,637.92 L495.04,638.04 L492.95,639.71 L493.66,642.29 L491.43,640.82 L489.20,642.29 L489.91,639.71 L487.82,638.04 L490.49,637.92 Z" fill="#8e8e00"/>
<path d="M498.40,636.35 L499.34,638.86 L502.01,638.98 L499.92,640.64 L500.63,643.22 L498.40,641.75 L496.17,643.22 L496.88,640.64 L494.79,638.98 L497.46,638.86 Z" fill="#8e8e00"/>
<path d="M505.37,637.75 L506.31,640.25 L508.98,640.37 L506.89,642.04 L507.60,644.62 L505.37,643.15 L503.14,644.62 L503.85,642.04 L501.76,640.37 L504.43,640.25 Z" fill="#8e8e00"/>
<path d="M512.34,638.68 L513.28,641.19 L515.95,641.31 L513.86,642.98 L514.57,645.56 L512.34,644.08 L510.11,645.56 L510.82,642.98 L508.73,641.31 L511.40,641.19 Z" fill="#8e8e00"/>
<path d="M519.31,640.08 L520.25,642.59 L522.92,642.71 L520.83,644.37 L521.54,646.95 L519.31,645.48 L517.08,646.95 L517.79,644.37 L515.70,642.71 L518.37,642.59 Z" fill="#8e8e00"/>
<path d="M122.02,527.10 L125.63,529.73 L124.25,533.97 L119.79,533.97 L118.41,529.73 Z" fill="#fb6501"/>
<path d="M128.99,535.60 L132.60,538.23 L131.22,542.47 L126.76,542.47 L125.38,538.23 Z" fill="#fb6501"/>
<path d="M135.96,547.90 L139.57,550.53 L138.19,554.77 L133.73,554.77 L132.35,550.53 Z" fill="#fb6501"/>
<path d="M142.93,566.30 L146.54,568.93 L145.16,573.17 L140.70,573.17 L139.32,568.93 Z" fill="#fb6501"/>
<path d="M149.90,573.30 L153.51,575.93 L152.13,580.17 L147.67,580.17 L146.29,575.93 Z" fill="#fb6501"/>
<path d="M156.87,579.10 L160.48,581.73 L159.10,585.97 L154.64,585.97 L153.26,581.73 Z" fill="#fb6501"/>
<path d="M163.84,585.00 L167.45,587.63 L166.07,591.87 L161.61,591.87 L160.23,587.63 Z" fill="#fb6501"/>
<path d="M170.81,589.90 L174.42,592.53 L173.04,596.77 L168.58,596.77 L167.20,592.53 Z" fill="#fb6501"/>
<path d="M177.78,604.30 L181.39,606.93 L180.01,611.17 L175.55,611.17 L174.17,606.93 Z" fill="#fb6501"/>
<path d="M184.75,609.00 L188.36,611.63 L186.98,615.87 L182.52,615.87 L181.14,611.63 Z" fill="#fb6501"/>
<path d="M191.72,614.30 L195.33,616.93 L193.95,621.17 L189.49,621.17 L188.11,616.93 Z" fill="#fb6501"/>
<path d="M198.69,617.60 L202.30,620.23 L200.92,624.47 L196.46,624.47 L195.08,620.23 Z" fill="#fb6501"/>
<path d="M205.66,620.62 L209.27,623.24 L207.89,627.49 L203.43,627.49 L202.05,623.24 Z" fill="#fb6501"/>
<path d="M212.63,622.38 L216.24,625.01 L214.86,629.26 L210.40,629.26 L209.02,625.01 Z" fill="#fb6501"/>
<path d="M219.60,624.60 L223.21,627.22 L221.83,631.47 L217.37,631.47 L215.99,627.22 Z" fill="#fb6501"/>
<path d="M226.57,625.99 L230.18,628.62 L228.80,632.87 L224.34,632.87 L222.96,628.62 Z" fill="#fb6501"/>
<path d="M233.54,627.16 L237.15,629.79 L235.77,634.03 L231.31,634.03 L229.93,629.79 Z" fill="#fb6501"/>
<path d="M240.51,628.09 L244.12,630.72 L242.74,634.97 L238.28,634.97 L236.90,630.72 Z" fill="#fb6501"/>
<path d="M247.48,629.26 L251.09,631.88 L249.71,636.13 L245.25,636.13 L243.87,631.88 Z" fill="#fb6501"/>
<path d="M254.45,630.42 L258.06,633.05 L256.68,637.30 L252.22,637.30 L250.84,633.05 Z" fill="#fb6501"/>
<path d="M261.42,631.12 L265.03,633.75 L263.65,638.00 L259.19,638.00 L257.81,633.75 Z" fill="#fb6501"/>
<path d="M268.39,631.59 L272.00,634.21 L270.62,638.46 L266.16,638.46 L264.78,634.21 Z" fill="#fb6501"/>
<path d="M275.36,632.29 L278.97,634.91 L277.59,639.16 L273.13,639.16 L271.75,634.91 Z" fill="#fb6501"/>
<path d="M282.33,632.75 L285.94,635.38 L284.56,639.63 L280.10,639.63 L278.72,635.38 Z" fill="#fb6501"/>
<path d="M289.30,633.45 L292.91,636.08 L291.53,640.33 L287.07,640.33 L285.69,636.08 Z" fill="#fb6501"/>
<path d="M296.27,634.04 L299.88,636.66 L298.50,640.91 L294.04,640.91 L292.66,636.66 Z" fill="#fb6501"/>
<path d="M303.24,634.85 L306.85,637.48 L305.47,641.73 L301.01,641.73 L299.63,637.48 Z" fill="#fb6501"/>
<path d="M310.21,635.08 L313.82,637.71 L312.44,641.96 L307.98,641.96 L306.60,637.71 Z" fill="#fb6501"/>
<path d="M317.18,635.78 L320.79,638.41 L319.41,642.66 L314.95,642.66 L313.57,638.41 Z" fill="#fb6501"/>
<path d="M324.15,636.25 L327.76,638.88 L326.38,643.12 L321.92,643.12 L320.54,638.88 Z" fill="#fb6501"/>
<path d="M331.12,636.95 L334.73,639.58 L333.35,643.82 L328.89,643.82 L327.51,639.58 Z" fill="#fb6501"/>
<path d="M338.09,636.95 L341.70,639.58 L340.32,643.82 L335.86,643.82 L334.48,639.58 Z" fill="#fb6501"/>
<path d="M345.06,637.42 L348.67,640.04 L347.29,644.29 L342.83,644.29 L341.45,640.04 Z" fill="#fb6501"/>
<path d="M352.03,637.65 L355.64,640.27 L354.26,644.52 L349.80,644.52 L348.42,640.27 Z" fill="#fb6501"/>
<path d="M359.00,638.12 L362.61,640.74 L361.23,644.99 L356.77,644.99 L355.39,640.74 Z" fill="#fb6501"/>
<path d="M365.97,638.58 L369.58,641.21 L368.20,645.46 L363.74,645.46 L362.36,641.21 Z" fill="#fb6501"/>
<path d="M372.94,638.81 L376.55,641.44 L375.17,645.69 L370.71,645.69 L369.33,641.44 Z" fill="#fb6501"/>
<path d="M379.91,639.28 L383.52,641.91 L382.14,646.15 L377.68,646.15 L376.30,641.91 Z" fill="#fb6501"/>
<path d="M386.88,639.75 L390.49,642.37 L389.11,646.62 L384.65,646.62 L383.27,642.37 Z" fill="#fb6501"/>
<path d="M393.85,639.98 L397.46,642.61 L396.08,646.85 L391.62,646.85 L390.24,642.61 Z" fill="#fb6501"/>
<path d="M400.82,639.98 L404.43,642.61 L403.05,646.85 L398.59,646.85 L397.21,642.61 Z" fill="#fb6501"/>
<path d="M407.79,640.45 L411.40,643.07 L410.02,647.32 L405.56,647.32 L404.18,643.07 Z" fill="#fb6501"/>
<path d="M414.76,640.91 L418.37,643.54 L416.99,647.79 L412.53,647.79 L411.15,643.54 Z" fill="#fb6501"/>
<path d="M421.73,641.61 L425.34,644.24 L423.96,648.49 L419.50,648.49 L418.12,644.24 Z" fill="#fb6501"/>
<path d="M428.70,642.08 L432.31,644.70 L430.93,648.95 L426.47,648.95 L425.09,644.70 Z" fill="#fb6501"/>
<path d="M435.67,642.31 L439.28,644.94 L437.90,649.19 L433.44,649.19 L432.06,644.94 Z" fill="#fb6501"/>
<path d="M442.64,642.78 L446.25,645.40 L444.87,649.65 L440.41,649.65 L439.03,645.40 Z" fill="#fb6501"/>
<path d="M449.61,643.24 L453.22,645.87 L451.84,650.12 L447.38,650.12 L446.00,645.87 Z" fill="#fb6501"/>
<path d="M456.58,643.94 L460.19,646.57 L458.81,650.82 L454.35,650.82 L452.97,646.57 Z" fill="#fb6501"/>
<path d="M463.55,644.41 L467.16,647.03 L465.78,651.28 L461.32,651.28 L459.94,647.03 Z" fill="#fb6501"/>
<path d="M470.52,644.64 L474.13,647.27 L472.75,651.52 L468.29,651.52 L466.91,647.27 Z" fill="#fb6501"/>
<path d="M477.49,644.88 L481.10,647.50 L479.72,651.75 L475.26,651.75 L473.88,647.50 Z" fill="#fb6501"/>
<path d="M484.46,645.11 L488.07,647.73 L486.69,651.98 L482.23,651.98 L480.85,647.73 Z" fill="#fb6501"/>
<path d="M491.43,645.11 L495.04,647.73 L493.66,651.98 L489.20,651.98 L487.82,647.73 Z" fill="#fb6501"/>
<path d="M498.40,645.57 L502.01,648.20 L500.63,652.45 L496.17,652.45 L494.79,648.20 Z" fill="#fb6501"/>
<path d="M505.37,646.27 L508.98,648.90 L507.60,653.15 L503.14,653.15 L501.76,648.90 Z" fill="#fb6501"/>
<path d="M512.34,646.27 L515.95,648.90 L514.57,653.15 L510.11,653.15 L508.73,648.90 Z" fill="#fb6501"/>
<path d="M519.31,646.97 L522.92,649.60 L521.54,653.85 L517.08,653.85 L515.70,649.60 Z" fill="#fb6501"/>
<rect x="132.05" y="745.35" width="6.51" height="6.51" fill="#515151"/>
<text x="160.4" y="755.00" font-size="18" fill="#111">NMC in half cell</text>
<path d="M135.30,770.44 L139.08,777.16 L131.52,777.16 Z" fill="#1a6fdf"/>
<text x="160.4" y="780.20" font-size="18" fill="#111">PL-500 mAh g<tspan font-size="11" dy="-7">-1</tspan></text>
<path d="M135.30,794.10 L139.50,798.30 L135.30,802.50 L131.10,798.30 Z" fill="#b177de"/>
<text x="160.4" y="804.70" font-size="18" fill="#111">PL-1500 mAh g<tspan font-size="11" dy="-7">-1</tspan></text>
<path d="M138.66,823.20 L131.94,819.42 L131.94,826.98 Z" fill="#00cbcc"/>
<text x="160.4" y="829.60" font-size="18" fill="#111">PL-2500 mAh g<tspan font-size="11" dy="-7">-1</tspan></text>
<path d="M135.30,842.53 L136.29,845.17 L139.09,845.29 L136.90,847.04 L137.65,849.75 L135.30,848.20 L132.95,849.75 L133.70,847.04 L131.51,845.29 L134.31,845.17 Z" fill="#8e8e00"/>
<text x="160.4" y="852.40" font-size="18" fill="#111">PL-0.01 V</text>
<circle cx="326.80" cy="748.60" r="3.57" fill="#f14040"/>
<text x="352.8" y="755.00" font-size="18" fill="#111">Without PL</text>
<path d="M326.80,777.16 L330.58,770.44 L323.02,770.44 Z" fill="#37ad6b"/>
<text x="352.8" y="780.20" font-size="18" fill="#111">PL-1050 mAh g<tspan font-size="11" dy="-7">-1</tspan></text>
<path d="M323.44,798.30 L330.16,794.52 L330.16,802.08 Z" fill="#cc9900"/>
<text x="352.8" y="804.70" font-size="18" fill="#111">PL-2000 mAh g<tspan font-size="11" dy="-7">-1</tspan></text>
<path d="M326.80,819.32 L330.16,821.26 L330.16,825.14 L326.80,827.09 L323.44,825.14 L323.44,821.26 Z" fill="#7d4e4e"/>
<text x="352.8" y="829.60" font-size="18" fill="#111">PL-3000 mAh g<tspan font-size="11" dy="-7">-1</tspan></text>
<path d="M326.80,842.43 L330.59,845.19 L329.15,849.65 L324.45,849.65 L323.01,845.19 Z" fill="#fb6501"/>
<text x="352.8" y="852.40" font-size="18" fill="#111">PL-2 cycles</text></svg></body></html>
